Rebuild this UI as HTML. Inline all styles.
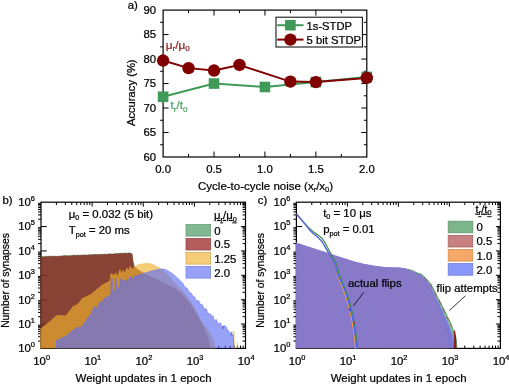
<!DOCTYPE html>
<html><head><meta charset="utf-8"><title>Figure</title>
<style>html,body{margin:0;padding:0;background:#fff}svg{display:block}text{font-family:"Liberation Sans",Arial,sans-serif;text-decoration-skip-ink:none}</style>
</head><body>
<svg width="509" height="385" viewBox="0 0 509 385">
<rect width="509" height="385" fill="#fff"/>
<rect x="163.1" y="10.1" width="203.70" height="146.90" fill="none" stroke="#000" stroke-width="1.2"/>
<text transform="translate(163.10,172.60) scale(1.1,1)" text-anchor="middle" fill="#000" stroke="#000" stroke-width="0.22" font-size="10.35" >0.0</text>
<line x1="188.56" y1="157.00" x2="188.56" y2="154.00" stroke="#000" stroke-width="1.0" />
<line x1="188.56" y1="10.10" x2="188.56" y2="13.10" stroke="#000" stroke-width="1.0" />
<line x1="214.03" y1="157.00" x2="214.03" y2="151.50" stroke="#000" stroke-width="1.0" />
<line x1="214.03" y1="10.10" x2="214.03" y2="15.60" stroke="#000" stroke-width="1.0" />
<text transform="translate(214.03,172.60) scale(1.1,1)" text-anchor="middle" fill="#000" stroke="#000" stroke-width="0.22" font-size="10.35" >0.5</text>
<line x1="239.49" y1="157.00" x2="239.49" y2="154.00" stroke="#000" stroke-width="1.0" />
<line x1="239.49" y1="10.10" x2="239.49" y2="13.10" stroke="#000" stroke-width="1.0" />
<line x1="264.95" y1="157.00" x2="264.95" y2="151.50" stroke="#000" stroke-width="1.0" />
<line x1="264.95" y1="10.10" x2="264.95" y2="15.60" stroke="#000" stroke-width="1.0" />
<text transform="translate(264.95,172.60) scale(1.1,1)" text-anchor="middle" fill="#000" stroke="#000" stroke-width="0.22" font-size="10.35" >1.0</text>
<line x1="290.41" y1="157.00" x2="290.41" y2="154.00" stroke="#000" stroke-width="1.0" />
<line x1="290.41" y1="10.10" x2="290.41" y2="13.10" stroke="#000" stroke-width="1.0" />
<line x1="315.88" y1="157.00" x2="315.88" y2="151.50" stroke="#000" stroke-width="1.0" />
<line x1="315.88" y1="10.10" x2="315.88" y2="15.60" stroke="#000" stroke-width="1.0" />
<text transform="translate(315.88,172.60) scale(1.1,1)" text-anchor="middle" fill="#000" stroke="#000" stroke-width="0.22" font-size="10.35" >1.5</text>
<line x1="341.34" y1="157.00" x2="341.34" y2="154.00" stroke="#000" stroke-width="1.0" />
<line x1="341.34" y1="10.10" x2="341.34" y2="13.10" stroke="#000" stroke-width="1.0" />
<text transform="translate(366.80,172.60) scale(1.1,1)" text-anchor="middle" fill="#000" stroke="#000" stroke-width="0.22" font-size="10.35" >2.0</text>
<text transform="translate(156.20,160.90) scale(1.1,1)" text-anchor="end" fill="#000" stroke="#000" stroke-width="0.22" font-size="10.35" >60</text>
<line x1="163.10" y1="144.76" x2="160.10" y2="144.76" stroke="#000" stroke-width="1.0" />
<line x1="366.80" y1="144.76" x2="363.80" y2="144.76" stroke="#000" stroke-width="1.0" />
<line x1="163.10" y1="132.52" x2="168.60" y2="132.52" stroke="#000" stroke-width="1.0" />
<line x1="366.80" y1="132.52" x2="361.30" y2="132.52" stroke="#000" stroke-width="1.0" />
<text transform="translate(156.20,136.42) scale(1.1,1)" text-anchor="end" fill="#000" stroke="#000" stroke-width="0.22" font-size="10.35" >65</text>
<line x1="163.10" y1="120.27" x2="160.10" y2="120.27" stroke="#000" stroke-width="1.0" />
<line x1="366.80" y1="120.27" x2="363.80" y2="120.27" stroke="#000" stroke-width="1.0" />
<line x1="163.10" y1="108.03" x2="168.60" y2="108.03" stroke="#000" stroke-width="1.0" />
<line x1="366.80" y1="108.03" x2="361.30" y2="108.03" stroke="#000" stroke-width="1.0" />
<text transform="translate(156.20,111.93) scale(1.1,1)" text-anchor="end" fill="#000" stroke="#000" stroke-width="0.22" font-size="10.35" >70</text>
<line x1="163.10" y1="95.79" x2="160.10" y2="95.79" stroke="#000" stroke-width="1.0" />
<line x1="366.80" y1="95.79" x2="363.80" y2="95.79" stroke="#000" stroke-width="1.0" />
<line x1="163.10" y1="83.55" x2="168.60" y2="83.55" stroke="#000" stroke-width="1.0" />
<line x1="366.80" y1="83.55" x2="361.30" y2="83.55" stroke="#000" stroke-width="1.0" />
<text transform="translate(156.20,87.45) scale(1.1,1)" text-anchor="end" fill="#000" stroke="#000" stroke-width="0.22" font-size="10.35" >75</text>
<line x1="163.10" y1="71.31" x2="160.10" y2="71.31" stroke="#000" stroke-width="1.0" />
<line x1="366.80" y1="71.31" x2="363.80" y2="71.31" stroke="#000" stroke-width="1.0" />
<line x1="163.10" y1="59.07" x2="168.60" y2="59.07" stroke="#000" stroke-width="1.0" />
<line x1="366.80" y1="59.07" x2="361.30" y2="59.07" stroke="#000" stroke-width="1.0" />
<text transform="translate(156.20,62.97) scale(1.1,1)" text-anchor="end" fill="#000" stroke="#000" stroke-width="0.22" font-size="10.35" >80</text>
<line x1="163.10" y1="46.83" x2="160.10" y2="46.83" stroke="#000" stroke-width="1.0" />
<line x1="366.80" y1="46.83" x2="363.80" y2="46.83" stroke="#000" stroke-width="1.0" />
<line x1="163.10" y1="34.58" x2="168.60" y2="34.58" stroke="#000" stroke-width="1.0" />
<line x1="366.80" y1="34.58" x2="361.30" y2="34.58" stroke="#000" stroke-width="1.0" />
<text transform="translate(156.20,38.48) scale(1.1,1)" text-anchor="end" fill="#000" stroke="#000" stroke-width="0.22" font-size="10.35" >85</text>
<line x1="163.10" y1="22.34" x2="160.10" y2="22.34" stroke="#000" stroke-width="1.0" />
<line x1="366.80" y1="22.34" x2="363.80" y2="22.34" stroke="#000" stroke-width="1.0" />
<text transform="translate(156.20,14.00) scale(1.1,1)" text-anchor="end" fill="#000" stroke="#000" stroke-width="0.22" font-size="10.35" >90</text>
<polyline fill="none" stroke="#3f9a58" stroke-width="2.0" points="163.10,96.77 214.03,83.55 264.95,86.98 315.88,82.08 366.80,76.94"/>
<rect x="157.80" y="91.47" width="10.6" height="10.6" fill="#3f9a58"/>
<rect x="208.72" y="78.25" width="10.6" height="10.6" fill="#3f9a58"/>
<rect x="259.65" y="81.68" width="10.6" height="10.6" fill="#3f9a58"/>
<rect x="310.57" y="76.78" width="10.6" height="10.6" fill="#3f9a58"/>
<rect x="361.50" y="71.64" width="10.6" height="10.6" fill="#3f9a58"/>
<polyline fill="none" stroke="#800000" stroke-width="2.0" points="163.10,60.54 188.56,68.13 214.03,70.57 239.49,64.94 290.41,81.59 315.88,82.08 366.80,77.92"/>
<circle cx="163.10" cy="60.54" r="6.2" fill="#800000"/>
<circle cx="188.56" cy="68.13" r="6.2" fill="#800000"/>
<circle cx="214.03" cy="70.57" r="6.2" fill="#800000"/>
<circle cx="239.49" cy="64.94" r="6.2" fill="#800000"/>
<circle cx="290.41" cy="81.59" r="6.2" fill="#800000"/>
<circle cx="315.88" cy="82.08" r="6.2" fill="#800000"/>
<circle cx="366.80" cy="77.92" r="6.2" fill="#800000"/>
<text transform="translate(127.80,8.90) scale(1.1,1)" text-anchor="start" fill="#000" stroke="#000" stroke-width="0.22" font-size="10.35" >a)</text>
<text transform="translate(135.20,92.75) scale(1.0,1.09) rotate(-90)" text-anchor="middle" fill="#000" stroke="#000" stroke-width="0.22" font-size="10.3" >Accuracy (%)</text>
<text transform="translate(265.55,189.50) scale(1.0,1)" text-anchor="middle" fill="#000" stroke="#000" stroke-width="0.22" font-size="11.5" >Cycle-to-cycle noise (x<tspan font-size="7.4" dy="2.6">r</tspan><tspan dy="-2.6">&#8203;</tspan>/x<tspan font-size="7.4" dy="2.6">0</tspan><tspan dy="-2.6">&#8203;</tspan>)</text>
<text transform="translate(165.70,48.80) scale(1.1,1)" text-anchor="start" fill="#8b1a1a" stroke="#8b1a1a" stroke-width="0.22" font-size="10.7" >μ<tspan font-size="7.3" dy="2.6">r</tspan><tspan dy="-2.6">&#8203;</tspan>/μ<tspan font-size="7.3" dy="2.6">0</tspan><tspan dy="-2.6">&#8203;</tspan></text>
<text transform="translate(170.60,109.00) scale(1.1,1)" text-anchor="start" fill="#4aa564" stroke="#4aa564" stroke-width="0.22" font-size="10.7" >t<tspan font-size="7.3" dy="2.6">r</tspan><tspan dy="-2.6">&#8203;</tspan>/t<tspan font-size="7.3" dy="2.6">0</tspan><tspan dy="-2.6">&#8203;</tspan></text>
<rect x="276.0" y="17.2" width="86.4" height="29.8" fill="#fff" stroke="#000" stroke-width="1"/>
<line x1="277.20" y1="25.20" x2="303.50" y2="25.20" stroke="#3f9a58" stroke-width="2.0" />
<rect x="285.09999999999997" y="19.9" width="10.6" height="10.6" fill="#3f9a58"/>
<line x1="277.20" y1="39.60" x2="303.50" y2="39.60" stroke="#800000" stroke-width="2.0" />
<circle cx="290.4" cy="39.6" r="6.2" fill="#800000"/>
<text transform="translate(306.60,29.50) scale(1.08,1)" text-anchor="start" fill="#000" stroke="#000" stroke-width="0.22" font-size="10.35" >1s-STDP</text>
<text transform="translate(306.60,43.70) scale(1.09,1)" text-anchor="start" fill="#000" stroke="#000" stroke-width="0.22" font-size="10.35" >5 bit STDP</text>
<rect x="41.0" y="202.2" width="204.50" height="146.20" fill="none" stroke="#000" stroke-width="1.2"/>
<text transform="translate(41.70,365.40) scale(1.1,1)" text-anchor="middle" fill="#000" stroke="#000" stroke-width="0.22" font-size="10.35" >10<tspan font-size="6.8" dy="-5.0">0</tspan></text>
<line x1="56.39" y1="348.40" x2="56.39" y2="345.60" stroke="#000" stroke-width="1.0" />
<line x1="56.39" y1="202.20" x2="56.39" y2="205.00" stroke="#000" stroke-width="1.0" />
<line x1="65.39" y1="348.40" x2="65.39" y2="345.60" stroke="#000" stroke-width="1.0" />
<line x1="65.39" y1="202.20" x2="65.39" y2="205.00" stroke="#000" stroke-width="1.0" />
<line x1="71.78" y1="348.40" x2="71.78" y2="345.60" stroke="#000" stroke-width="1.0" />
<line x1="71.78" y1="202.20" x2="71.78" y2="205.00" stroke="#000" stroke-width="1.0" />
<line x1="76.73" y1="348.40" x2="76.73" y2="345.60" stroke="#000" stroke-width="1.0" />
<line x1="76.73" y1="202.20" x2="76.73" y2="205.00" stroke="#000" stroke-width="1.0" />
<line x1="80.78" y1="348.40" x2="80.78" y2="345.60" stroke="#000" stroke-width="1.0" />
<line x1="80.78" y1="202.20" x2="80.78" y2="205.00" stroke="#000" stroke-width="1.0" />
<line x1="84.21" y1="348.40" x2="84.21" y2="345.60" stroke="#000" stroke-width="1.0" />
<line x1="84.21" y1="202.20" x2="84.21" y2="205.00" stroke="#000" stroke-width="1.0" />
<line x1="87.17" y1="348.40" x2="87.17" y2="345.60" stroke="#000" stroke-width="1.0" />
<line x1="87.17" y1="202.20" x2="87.17" y2="205.00" stroke="#000" stroke-width="1.0" />
<line x1="89.79" y1="348.40" x2="89.79" y2="345.60" stroke="#000" stroke-width="1.0" />
<line x1="89.79" y1="202.20" x2="89.79" y2="205.00" stroke="#000" stroke-width="1.0" />
<line x1="92.12" y1="348.40" x2="92.12" y2="343.90" stroke="#000" stroke-width="1.0" />
<line x1="92.12" y1="202.20" x2="92.12" y2="206.70" stroke="#000" stroke-width="1.0" />
<text transform="translate(92.83,365.40) scale(1.1,1)" text-anchor="middle" fill="#000" stroke="#000" stroke-width="0.22" font-size="10.35" >10<tspan font-size="6.8" dy="-5.0">1</tspan></text>
<line x1="107.52" y1="348.40" x2="107.52" y2="345.60" stroke="#000" stroke-width="1.0" />
<line x1="107.52" y1="202.20" x2="107.52" y2="205.00" stroke="#000" stroke-width="1.0" />
<line x1="116.52" y1="348.40" x2="116.52" y2="345.60" stroke="#000" stroke-width="1.0" />
<line x1="116.52" y1="202.20" x2="116.52" y2="205.00" stroke="#000" stroke-width="1.0" />
<line x1="122.91" y1="348.40" x2="122.91" y2="345.60" stroke="#000" stroke-width="1.0" />
<line x1="122.91" y1="202.20" x2="122.91" y2="205.00" stroke="#000" stroke-width="1.0" />
<line x1="127.86" y1="348.40" x2="127.86" y2="345.60" stroke="#000" stroke-width="1.0" />
<line x1="127.86" y1="202.20" x2="127.86" y2="205.00" stroke="#000" stroke-width="1.0" />
<line x1="131.91" y1="348.40" x2="131.91" y2="345.60" stroke="#000" stroke-width="1.0" />
<line x1="131.91" y1="202.20" x2="131.91" y2="205.00" stroke="#000" stroke-width="1.0" />
<line x1="135.33" y1="348.40" x2="135.33" y2="345.60" stroke="#000" stroke-width="1.0" />
<line x1="135.33" y1="202.20" x2="135.33" y2="205.00" stroke="#000" stroke-width="1.0" />
<line x1="138.30" y1="348.40" x2="138.30" y2="345.60" stroke="#000" stroke-width="1.0" />
<line x1="138.30" y1="202.20" x2="138.30" y2="205.00" stroke="#000" stroke-width="1.0" />
<line x1="140.91" y1="348.40" x2="140.91" y2="345.60" stroke="#000" stroke-width="1.0" />
<line x1="140.91" y1="202.20" x2="140.91" y2="205.00" stroke="#000" stroke-width="1.0" />
<line x1="143.25" y1="348.40" x2="143.25" y2="343.90" stroke="#000" stroke-width="1.0" />
<line x1="143.25" y1="202.20" x2="143.25" y2="206.70" stroke="#000" stroke-width="1.0" />
<text transform="translate(143.95,365.40) scale(1.1,1)" text-anchor="middle" fill="#000" stroke="#000" stroke-width="0.22" font-size="10.35" >10<tspan font-size="6.8" dy="-5.0">2</tspan></text>
<line x1="158.64" y1="348.40" x2="158.64" y2="345.60" stroke="#000" stroke-width="1.0" />
<line x1="158.64" y1="202.20" x2="158.64" y2="205.00" stroke="#000" stroke-width="1.0" />
<line x1="167.64" y1="348.40" x2="167.64" y2="345.60" stroke="#000" stroke-width="1.0" />
<line x1="167.64" y1="202.20" x2="167.64" y2="205.00" stroke="#000" stroke-width="1.0" />
<line x1="174.03" y1="348.40" x2="174.03" y2="345.60" stroke="#000" stroke-width="1.0" />
<line x1="174.03" y1="202.20" x2="174.03" y2="205.00" stroke="#000" stroke-width="1.0" />
<line x1="178.98" y1="348.40" x2="178.98" y2="345.60" stroke="#000" stroke-width="1.0" />
<line x1="178.98" y1="202.20" x2="178.98" y2="205.00" stroke="#000" stroke-width="1.0" />
<line x1="183.03" y1="348.40" x2="183.03" y2="345.60" stroke="#000" stroke-width="1.0" />
<line x1="183.03" y1="202.20" x2="183.03" y2="205.00" stroke="#000" stroke-width="1.0" />
<line x1="186.46" y1="348.40" x2="186.46" y2="345.60" stroke="#000" stroke-width="1.0" />
<line x1="186.46" y1="202.20" x2="186.46" y2="205.00" stroke="#000" stroke-width="1.0" />
<line x1="189.42" y1="348.40" x2="189.42" y2="345.60" stroke="#000" stroke-width="1.0" />
<line x1="189.42" y1="202.20" x2="189.42" y2="205.00" stroke="#000" stroke-width="1.0" />
<line x1="192.04" y1="348.40" x2="192.04" y2="345.60" stroke="#000" stroke-width="1.0" />
<line x1="192.04" y1="202.20" x2="192.04" y2="205.00" stroke="#000" stroke-width="1.0" />
<line x1="194.38" y1="348.40" x2="194.38" y2="343.90" stroke="#000" stroke-width="1.0" />
<line x1="194.38" y1="202.20" x2="194.38" y2="206.70" stroke="#000" stroke-width="1.0" />
<text transform="translate(195.07,365.40) scale(1.1,1)" text-anchor="middle" fill="#000" stroke="#000" stroke-width="0.22" font-size="10.35" >10<tspan font-size="6.8" dy="-5.0">3</tspan></text>
<line x1="209.77" y1="348.40" x2="209.77" y2="345.60" stroke="#000" stroke-width="1.0" />
<line x1="209.77" y1="202.20" x2="209.77" y2="205.00" stroke="#000" stroke-width="1.0" />
<line x1="218.77" y1="348.40" x2="218.77" y2="345.60" stroke="#000" stroke-width="1.0" />
<line x1="218.77" y1="202.20" x2="218.77" y2="205.00" stroke="#000" stroke-width="1.0" />
<line x1="225.16" y1="348.40" x2="225.16" y2="345.60" stroke="#000" stroke-width="1.0" />
<line x1="225.16" y1="202.20" x2="225.16" y2="205.00" stroke="#000" stroke-width="1.0" />
<line x1="230.11" y1="348.40" x2="230.11" y2="345.60" stroke="#000" stroke-width="1.0" />
<line x1="230.11" y1="202.20" x2="230.11" y2="205.00" stroke="#000" stroke-width="1.0" />
<line x1="234.16" y1="348.40" x2="234.16" y2="345.60" stroke="#000" stroke-width="1.0" />
<line x1="234.16" y1="202.20" x2="234.16" y2="205.00" stroke="#000" stroke-width="1.0" />
<line x1="237.58" y1="348.40" x2="237.58" y2="345.60" stroke="#000" stroke-width="1.0" />
<line x1="237.58" y1="202.20" x2="237.58" y2="205.00" stroke="#000" stroke-width="1.0" />
<line x1="240.55" y1="348.40" x2="240.55" y2="345.60" stroke="#000" stroke-width="1.0" />
<line x1="240.55" y1="202.20" x2="240.55" y2="205.00" stroke="#000" stroke-width="1.0" />
<line x1="243.16" y1="348.40" x2="243.16" y2="345.60" stroke="#000" stroke-width="1.0" />
<line x1="243.16" y1="202.20" x2="243.16" y2="205.00" stroke="#000" stroke-width="1.0" />
<text transform="translate(246.20,365.40) scale(1.1,1)" text-anchor="middle" fill="#000" stroke="#000" stroke-width="0.22" font-size="10.35" >10<tspan font-size="6.8" dy="-5.0">4</tspan></text>
<text transform="translate(35.00,352.30) scale(1.1,1)" text-anchor="end" fill="#000" stroke="#000" stroke-width="0.22" font-size="10.35" >10<tspan font-size="6.8" dy="-5.0">0</tspan></text>
<line x1="41.00" y1="341.06" x2="38.00" y2="341.06" stroke="#000" stroke-width="1.0" />
<line x1="245.50" y1="341.06" x2="242.50" y2="341.06" stroke="#000" stroke-width="1.0" />
<line x1="41.00" y1="336.77" x2="38.00" y2="336.77" stroke="#000" stroke-width="1.0" />
<line x1="245.50" y1="336.77" x2="242.50" y2="336.77" stroke="#000" stroke-width="1.0" />
<line x1="41.00" y1="333.73" x2="38.00" y2="333.73" stroke="#000" stroke-width="1.0" />
<line x1="245.50" y1="333.73" x2="242.50" y2="333.73" stroke="#000" stroke-width="1.0" />
<line x1="41.00" y1="331.37" x2="38.00" y2="331.37" stroke="#000" stroke-width="1.0" />
<line x1="245.50" y1="331.37" x2="242.50" y2="331.37" stroke="#000" stroke-width="1.0" />
<line x1="41.00" y1="329.44" x2="38.00" y2="329.44" stroke="#000" stroke-width="1.0" />
<line x1="245.50" y1="329.44" x2="242.50" y2="329.44" stroke="#000" stroke-width="1.0" />
<line x1="41.00" y1="327.81" x2="38.00" y2="327.81" stroke="#000" stroke-width="1.0" />
<line x1="245.50" y1="327.81" x2="242.50" y2="327.81" stroke="#000" stroke-width="1.0" />
<line x1="41.00" y1="326.39" x2="38.00" y2="326.39" stroke="#000" stroke-width="1.0" />
<line x1="245.50" y1="326.39" x2="242.50" y2="326.39" stroke="#000" stroke-width="1.0" />
<line x1="41.00" y1="325.15" x2="38.00" y2="325.15" stroke="#000" stroke-width="1.0" />
<line x1="245.50" y1="325.15" x2="242.50" y2="325.15" stroke="#000" stroke-width="1.0" />
<line x1="41.00" y1="324.03" x2="46.80" y2="324.03" stroke="#000" stroke-width="1.0" />
<line x1="245.50" y1="324.03" x2="241.00" y2="324.03" stroke="#000" stroke-width="1.0" />
<text transform="translate(35.00,327.93) scale(1.1,1)" text-anchor="end" fill="#000" stroke="#000" stroke-width="0.22" font-size="10.35" >10<tspan font-size="6.8" dy="-5.0">1</tspan></text>
<line x1="41.00" y1="316.70" x2="38.00" y2="316.70" stroke="#000" stroke-width="1.0" />
<line x1="245.50" y1="316.70" x2="242.50" y2="316.70" stroke="#000" stroke-width="1.0" />
<line x1="41.00" y1="312.41" x2="38.00" y2="312.41" stroke="#000" stroke-width="1.0" />
<line x1="245.50" y1="312.41" x2="242.50" y2="312.41" stroke="#000" stroke-width="1.0" />
<line x1="41.00" y1="309.36" x2="38.00" y2="309.36" stroke="#000" stroke-width="1.0" />
<line x1="245.50" y1="309.36" x2="242.50" y2="309.36" stroke="#000" stroke-width="1.0" />
<line x1="41.00" y1="307.00" x2="38.00" y2="307.00" stroke="#000" stroke-width="1.0" />
<line x1="245.50" y1="307.00" x2="242.50" y2="307.00" stroke="#000" stroke-width="1.0" />
<line x1="41.00" y1="305.07" x2="38.00" y2="305.07" stroke="#000" stroke-width="1.0" />
<line x1="245.50" y1="305.07" x2="242.50" y2="305.07" stroke="#000" stroke-width="1.0" />
<line x1="41.00" y1="303.44" x2="38.00" y2="303.44" stroke="#000" stroke-width="1.0" />
<line x1="245.50" y1="303.44" x2="242.50" y2="303.44" stroke="#000" stroke-width="1.0" />
<line x1="41.00" y1="302.03" x2="38.00" y2="302.03" stroke="#000" stroke-width="1.0" />
<line x1="245.50" y1="302.03" x2="242.50" y2="302.03" stroke="#000" stroke-width="1.0" />
<line x1="41.00" y1="300.78" x2="38.00" y2="300.78" stroke="#000" stroke-width="1.0" />
<line x1="245.50" y1="300.78" x2="242.50" y2="300.78" stroke="#000" stroke-width="1.0" />
<line x1="41.00" y1="299.67" x2="46.80" y2="299.67" stroke="#000" stroke-width="1.0" />
<line x1="245.50" y1="299.67" x2="241.00" y2="299.67" stroke="#000" stroke-width="1.0" />
<text transform="translate(35.00,303.57) scale(1.1,1)" text-anchor="end" fill="#000" stroke="#000" stroke-width="0.22" font-size="10.35" >10<tspan font-size="6.8" dy="-5.0">2</tspan></text>
<line x1="41.00" y1="292.33" x2="38.00" y2="292.33" stroke="#000" stroke-width="1.0" />
<line x1="245.50" y1="292.33" x2="242.50" y2="292.33" stroke="#000" stroke-width="1.0" />
<line x1="41.00" y1="288.04" x2="38.00" y2="288.04" stroke="#000" stroke-width="1.0" />
<line x1="245.50" y1="288.04" x2="242.50" y2="288.04" stroke="#000" stroke-width="1.0" />
<line x1="41.00" y1="285.00" x2="38.00" y2="285.00" stroke="#000" stroke-width="1.0" />
<line x1="245.50" y1="285.00" x2="242.50" y2="285.00" stroke="#000" stroke-width="1.0" />
<line x1="41.00" y1="282.64" x2="38.00" y2="282.64" stroke="#000" stroke-width="1.0" />
<line x1="245.50" y1="282.64" x2="242.50" y2="282.64" stroke="#000" stroke-width="1.0" />
<line x1="41.00" y1="280.71" x2="38.00" y2="280.71" stroke="#000" stroke-width="1.0" />
<line x1="245.50" y1="280.71" x2="242.50" y2="280.71" stroke="#000" stroke-width="1.0" />
<line x1="41.00" y1="279.07" x2="38.00" y2="279.07" stroke="#000" stroke-width="1.0" />
<line x1="245.50" y1="279.07" x2="242.50" y2="279.07" stroke="#000" stroke-width="1.0" />
<line x1="41.00" y1="277.66" x2="38.00" y2="277.66" stroke="#000" stroke-width="1.0" />
<line x1="245.50" y1="277.66" x2="242.50" y2="277.66" stroke="#000" stroke-width="1.0" />
<line x1="41.00" y1="276.41" x2="38.00" y2="276.41" stroke="#000" stroke-width="1.0" />
<line x1="245.50" y1="276.41" x2="242.50" y2="276.41" stroke="#000" stroke-width="1.0" />
<line x1="41.00" y1="275.30" x2="46.80" y2="275.30" stroke="#000" stroke-width="1.0" />
<line x1="245.50" y1="275.30" x2="241.00" y2="275.30" stroke="#000" stroke-width="1.0" />
<text transform="translate(35.00,279.20) scale(1.1,1)" text-anchor="end" fill="#000" stroke="#000" stroke-width="0.22" font-size="10.35" >10<tspan font-size="6.8" dy="-5.0">3</tspan></text>
<line x1="41.00" y1="267.96" x2="38.00" y2="267.96" stroke="#000" stroke-width="1.0" />
<line x1="245.50" y1="267.96" x2="242.50" y2="267.96" stroke="#000" stroke-width="1.0" />
<line x1="41.00" y1="263.67" x2="38.00" y2="263.67" stroke="#000" stroke-width="1.0" />
<line x1="245.50" y1="263.67" x2="242.50" y2="263.67" stroke="#000" stroke-width="1.0" />
<line x1="41.00" y1="260.63" x2="38.00" y2="260.63" stroke="#000" stroke-width="1.0" />
<line x1="245.50" y1="260.63" x2="242.50" y2="260.63" stroke="#000" stroke-width="1.0" />
<line x1="41.00" y1="258.27" x2="38.00" y2="258.27" stroke="#000" stroke-width="1.0" />
<line x1="245.50" y1="258.27" x2="242.50" y2="258.27" stroke="#000" stroke-width="1.0" />
<line x1="41.00" y1="256.34" x2="38.00" y2="256.34" stroke="#000" stroke-width="1.0" />
<line x1="245.50" y1="256.34" x2="242.50" y2="256.34" stroke="#000" stroke-width="1.0" />
<line x1="41.00" y1="254.71" x2="38.00" y2="254.71" stroke="#000" stroke-width="1.0" />
<line x1="245.50" y1="254.71" x2="242.50" y2="254.71" stroke="#000" stroke-width="1.0" />
<line x1="41.00" y1="253.29" x2="38.00" y2="253.29" stroke="#000" stroke-width="1.0" />
<line x1="245.50" y1="253.29" x2="242.50" y2="253.29" stroke="#000" stroke-width="1.0" />
<line x1="41.00" y1="252.05" x2="38.00" y2="252.05" stroke="#000" stroke-width="1.0" />
<line x1="245.50" y1="252.05" x2="242.50" y2="252.05" stroke="#000" stroke-width="1.0" />
<line x1="41.00" y1="250.93" x2="46.80" y2="250.93" stroke="#000" stroke-width="1.0" />
<line x1="245.50" y1="250.93" x2="241.00" y2="250.93" stroke="#000" stroke-width="1.0" />
<text transform="translate(35.00,254.83) scale(1.1,1)" text-anchor="end" fill="#000" stroke="#000" stroke-width="0.22" font-size="10.35" >10<tspan font-size="6.8" dy="-5.0">4</tspan></text>
<line x1="41.00" y1="243.60" x2="38.00" y2="243.60" stroke="#000" stroke-width="1.0" />
<line x1="245.50" y1="243.60" x2="242.50" y2="243.60" stroke="#000" stroke-width="1.0" />
<line x1="41.00" y1="239.31" x2="38.00" y2="239.31" stroke="#000" stroke-width="1.0" />
<line x1="245.50" y1="239.31" x2="242.50" y2="239.31" stroke="#000" stroke-width="1.0" />
<line x1="41.00" y1="236.26" x2="38.00" y2="236.26" stroke="#000" stroke-width="1.0" />
<line x1="245.50" y1="236.26" x2="242.50" y2="236.26" stroke="#000" stroke-width="1.0" />
<line x1="41.00" y1="233.90" x2="38.00" y2="233.90" stroke="#000" stroke-width="1.0" />
<line x1="245.50" y1="233.90" x2="242.50" y2="233.90" stroke="#000" stroke-width="1.0" />
<line x1="41.00" y1="231.97" x2="38.00" y2="231.97" stroke="#000" stroke-width="1.0" />
<line x1="245.50" y1="231.97" x2="242.50" y2="231.97" stroke="#000" stroke-width="1.0" />
<line x1="41.00" y1="230.34" x2="38.00" y2="230.34" stroke="#000" stroke-width="1.0" />
<line x1="245.50" y1="230.34" x2="242.50" y2="230.34" stroke="#000" stroke-width="1.0" />
<line x1="41.00" y1="228.93" x2="38.00" y2="228.93" stroke="#000" stroke-width="1.0" />
<line x1="245.50" y1="228.93" x2="242.50" y2="228.93" stroke="#000" stroke-width="1.0" />
<line x1="41.00" y1="227.68" x2="38.00" y2="227.68" stroke="#000" stroke-width="1.0" />
<line x1="245.50" y1="227.68" x2="242.50" y2="227.68" stroke="#000" stroke-width="1.0" />
<line x1="41.00" y1="226.57" x2="46.80" y2="226.57" stroke="#000" stroke-width="1.0" />
<line x1="245.50" y1="226.57" x2="241.00" y2="226.57" stroke="#000" stroke-width="1.0" />
<text transform="translate(35.00,230.47) scale(1.1,1)" text-anchor="end" fill="#000" stroke="#000" stroke-width="0.22" font-size="10.35" >10<tspan font-size="6.8" dy="-5.0">5</tspan></text>
<line x1="41.00" y1="219.23" x2="38.00" y2="219.23" stroke="#000" stroke-width="1.0" />
<line x1="245.50" y1="219.23" x2="242.50" y2="219.23" stroke="#000" stroke-width="1.0" />
<line x1="41.00" y1="214.94" x2="38.00" y2="214.94" stroke="#000" stroke-width="1.0" />
<line x1="245.50" y1="214.94" x2="242.50" y2="214.94" stroke="#000" stroke-width="1.0" />
<line x1="41.00" y1="211.90" x2="38.00" y2="211.90" stroke="#000" stroke-width="1.0" />
<line x1="245.50" y1="211.90" x2="242.50" y2="211.90" stroke="#000" stroke-width="1.0" />
<line x1="41.00" y1="209.54" x2="38.00" y2="209.54" stroke="#000" stroke-width="1.0" />
<line x1="245.50" y1="209.54" x2="242.50" y2="209.54" stroke="#000" stroke-width="1.0" />
<line x1="41.00" y1="207.61" x2="38.00" y2="207.61" stroke="#000" stroke-width="1.0" />
<line x1="245.50" y1="207.61" x2="242.50" y2="207.61" stroke="#000" stroke-width="1.0" />
<line x1="41.00" y1="205.97" x2="38.00" y2="205.97" stroke="#000" stroke-width="1.0" />
<line x1="245.50" y1="205.97" x2="242.50" y2="205.97" stroke="#000" stroke-width="1.0" />
<line x1="41.00" y1="204.56" x2="38.00" y2="204.56" stroke="#000" stroke-width="1.0" />
<line x1="245.50" y1="204.56" x2="242.50" y2="204.56" stroke="#000" stroke-width="1.0" />
<line x1="41.00" y1="203.31" x2="38.00" y2="203.31" stroke="#000" stroke-width="1.0" />
<line x1="245.50" y1="203.31" x2="242.50" y2="203.31" stroke="#000" stroke-width="1.0" />
<text transform="translate(35.00,206.10) scale(1.1,1)" text-anchor="end" fill="#000" stroke="#000" stroke-width="0.22" font-size="10.35" >10<tspan font-size="6.8" dy="-5.0">6</tspan></text>
<clipPath id="clipb"><rect x="40.4" y="202.2" width="205.10" height="146.20"/></clipPath>
<g clip-path="url(#clipb)">
<path d="M40.00,348.40 L40.00,256.39 L41.00,256.25 L42.00,256.51 L43.00,256.12 L44.00,256.36 L45.00,256.22 L46.00,255.99 L47.00,256.22 L48.00,255.90 L49.00,256.10 L50.00,255.84 L51.00,255.81 L52.00,255.97 L53.00,256.18 L54.00,255.71 L55.00,255.73 L56.00,255.94 L57.00,256.09 L58.00,255.83 L59.00,255.68 L60.00,255.99 L61.00,255.38 L62.00,255.83 L63.00,255.44 L64.00,255.31 L65.00,255.25 L66.00,255.33 L67.00,255.59 L68.00,255.16 L69.00,255.36 L70.00,255.35 L71.00,255.15 L72.00,255.21 L73.00,254.87 L74.00,254.83 L75.00,254.87 L76.00,255.11 L77.00,254.92 L78.00,254.81 L79.00,254.93 L80.00,254.81 L81.00,254.67 L82.00,254.92 L83.00,254.82 L84.00,254.51 L85.00,254.66 L86.00,254.59 L87.00,254.76 L88.00,254.62 L89.00,254.32 L90.00,254.69 L91.00,254.13 L92.00,254.27 L93.00,254.43 L94.00,254.03 L95.00,254.19 L96.00,253.88 L97.00,254.22 L98.00,254.24 L99.00,254.08 L100.00,254.23 L101.00,253.85 L102.00,254.04 L103.00,253.94 L104.00,253.89 L105.00,253.77 L106.00,253.96 L107.00,253.99 L108.00,253.66 L109.00,253.74 L110.00,253.34 L111.00,253.68 L112.00,253.61 L113.00,253.78 L114.00,253.63 L115.00,253.27 L116.00,253.29 L117.00,253.42 L118.00,252.99 L119.00,253.22 L120.00,253.00 L121.04,252.92 L122.07,252.84 L123.11,253.22 L124.15,252.80 L125.18,252.82 L126.22,252.86 L127.25,253.10 L128.29,252.58 L129.33,252.76 L130.36,252.78 L131.40,252.93 L132.40,254.19 L133.30,261.22 L134.50,266.67 L135.62,267.55 L136.75,268.32 L137.88,269.43 L139.00,270.27 L140.10,270.51 L141.20,271.25 L142.30,272.00 L143.40,272.72 L144.50,273.59 L145.58,274.15 L146.67,274.46 L147.75,274.80 L148.83,275.55 L149.92,276.02 L151.00,276.64 L152.05,277.36 L153.10,277.68 L154.15,278.06 L155.20,278.60 L156.25,279.12 L157.30,279.23 L158.31,280.25 L159.32,280.69 L160.33,281.26 L161.34,281.72 L162.36,281.99 L163.37,282.51 L164.38,282.84 L165.39,283.67 L166.40,283.84 L167.41,284.34 L168.42,284.93 L169.43,285.40 L170.44,286.00 L171.46,286.33 L172.47,286.80 L173.48,287.39 L174.49,287.86 L175.50,288.52 L176.62,289.17 L177.75,290.52 L178.88,291.22 L180.00,291.79 L181.12,292.98 L182.25,294.16 L183.38,295.29 L184.50,296.27 L185.62,298.08 L186.75,299.55 L187.88,300.60 L189.00,301.99 L190.10,303.40 L191.20,305.06 L192.30,306.86 L193.40,308.46 L194.55,310.77 L195.70,312.35 L196.85,314.24 L198.00,316.77 L199.30,318.98 L200.60,321.22 L201.90,323.93 L203.20,326.17 L204.50,329.02 L205.75,331.79 L207.00,334.22 L208.80,340.12 L210.30,349.00 L210.30,348.40 Z" fill="#3f9256" fill-opacity="0.65"/>
<polyline fill="none" stroke="#3f9256" stroke-width="0.6" stroke-opacity="0.25" stroke-linejoin="round" points="40.00,256.39 41.00,256.25 42.00,256.51 43.00,256.12 44.00,256.36 45.00,256.22 46.00,255.99 47.00,256.22 48.00,255.90 49.00,256.10 50.00,255.84 51.00,255.81 52.00,255.97 53.00,256.18 54.00,255.71 55.00,255.73 56.00,255.94 57.00,256.09 58.00,255.83 59.00,255.68 60.00,255.99 61.00,255.38 62.00,255.83 63.00,255.44 64.00,255.31 65.00,255.25 66.00,255.33 67.00,255.59 68.00,255.16 69.00,255.36 70.00,255.35 71.00,255.15 72.00,255.21 73.00,254.87 74.00,254.83 75.00,254.87 76.00,255.11 77.00,254.92 78.00,254.81 79.00,254.93 80.00,254.81 81.00,254.67 82.00,254.92 83.00,254.82 84.00,254.51 85.00,254.66 86.00,254.59 87.00,254.76 88.00,254.62 89.00,254.32 90.00,254.69 91.00,254.13 92.00,254.27 93.00,254.43 94.00,254.03 95.00,254.19 96.00,253.88 97.00,254.22 98.00,254.24 99.00,254.08 100.00,254.23 101.00,253.85 102.00,254.04 103.00,253.94 104.00,253.89 105.00,253.77 106.00,253.96 107.00,253.99 108.00,253.66 109.00,253.74 110.00,253.34 111.00,253.68 112.00,253.61 113.00,253.78 114.00,253.63 115.00,253.27 116.00,253.29 117.00,253.42 118.00,252.99 119.00,253.22 120.00,253.00 121.04,252.92 122.07,252.84 123.11,253.22 124.15,252.80 125.18,252.82 126.22,252.86 127.25,253.10 128.29,252.58 129.33,252.76 130.36,252.78 131.40,252.93 132.40,254.19 133.30,261.22 134.50,266.67 135.62,267.55 136.75,268.32 137.88,269.43 139.00,270.27 140.10,270.51 141.20,271.25 142.30,272.00 143.40,272.72 144.50,273.59 145.58,274.15 146.67,274.46 147.75,274.80 148.83,275.55 149.92,276.02 151.00,276.64 152.05,277.36 153.10,277.68 154.15,278.06 155.20,278.60 156.25,279.12 157.30,279.23 158.31,280.25 159.32,280.69 160.33,281.26 161.34,281.72 162.36,281.99 163.37,282.51 164.38,282.84 165.39,283.67 166.40,283.84 167.41,284.34 168.42,284.93 169.43,285.40 170.44,286.00 171.46,286.33 172.47,286.80 173.48,287.39 174.49,287.86 175.50,288.52 176.62,289.17 177.75,290.52 178.88,291.22 180.00,291.79 181.12,292.98 182.25,294.16 183.38,295.29 184.50,296.27 185.62,298.08 186.75,299.55 187.88,300.60 189.00,301.99 190.10,303.40 191.20,305.06 192.30,306.86 193.40,308.46 194.55,310.77 195.70,312.35 196.85,314.24 198.00,316.77 199.30,318.98 200.60,321.22 201.90,323.93 203.20,326.17 204.50,329.02 205.75,331.79 207.00,334.22 208.80,340.12 210.30,349.00"/>
<path d="M230.80,336.00 L230.80,336.00 L231.00,331.40 L232.40,332.20 L232.60,336.00 L232.60,336.00 Z" fill="#3f9256" fill-opacity="0.7"/>
<path d="M40.00,348.40 L40.00,256.69 L41.00,256.55 L42.00,256.81 L43.00,256.42 L44.00,256.66 L45.00,256.52 L46.00,256.29 L47.00,256.52 L48.00,256.20 L49.00,256.40 L50.00,256.14 L51.00,256.11 L52.00,256.27 L53.00,256.48 L54.00,256.01 L55.00,256.03 L56.00,256.24 L57.00,256.39 L58.00,256.13 L59.00,255.98 L60.00,256.29 L61.00,255.68 L62.00,256.13 L63.00,255.74 L64.00,255.61 L65.00,255.55 L66.00,255.63 L67.00,255.89 L68.00,255.46 L69.00,255.66 L70.00,255.65 L71.00,255.45 L72.00,255.51 L73.00,255.17 L74.00,255.13 L75.00,255.17 L76.00,255.41 L77.00,255.22 L78.00,255.11 L79.00,255.23 L80.00,255.11 L81.00,254.97 L82.00,255.22 L83.00,255.12 L84.00,254.81 L85.00,254.96 L86.00,254.89 L87.00,255.06 L88.00,254.92 L89.00,254.62 L90.00,254.99 L91.00,254.43 L92.00,254.57 L93.00,254.73 L94.00,254.33 L95.00,254.49 L96.00,254.18 L97.00,254.52 L98.00,254.54 L99.00,254.38 L100.00,254.53 L101.00,254.15 L102.00,254.34 L103.00,254.24 L104.00,254.19 L105.00,254.07 L106.00,254.26 L107.00,254.29 L108.00,253.96 L109.00,254.04 L110.00,253.64 L111.00,253.98 L112.00,253.91 L113.00,254.08 L114.00,253.93 L115.00,253.57 L116.00,253.59 L117.00,253.72 L118.00,253.29 L119.00,253.52 L120.00,253.30 L121.04,253.22 L122.07,253.14 L123.11,253.52 L124.15,253.10 L125.18,253.12 L126.22,253.16 L127.25,253.40 L128.29,252.88 L129.33,253.06 L130.36,253.08 L131.40,253.23 L132.40,254.49 L133.30,261.52 L134.50,266.97 L135.62,267.85 L136.75,268.62 L137.88,269.73 L139.00,270.57 L140.10,270.81 L141.20,271.55 L142.30,272.30 L143.40,273.02 L144.50,273.89 L145.58,274.45 L146.67,274.76 L147.75,275.10 L148.83,275.85 L149.92,276.32 L151.00,276.94 L152.05,277.66 L153.10,277.98 L154.15,278.36 L155.20,278.90 L156.25,279.42 L157.30,279.53 L158.31,280.55 L159.32,280.99 L160.33,281.56 L161.34,282.02 L162.36,282.29 L163.37,282.81 L164.38,283.14 L165.39,283.97 L166.40,284.14 L167.41,284.64 L168.42,285.23 L169.43,285.70 L170.44,286.30 L171.46,286.63 L172.47,287.10 L173.48,287.69 L174.49,288.16 L175.50,288.82 L176.62,289.47 L177.75,290.82 L178.88,291.52 L180.00,292.09 L181.12,293.28 L182.25,294.46 L183.38,295.59 L184.50,296.57 L185.62,298.38 L186.75,299.85 L187.88,300.90 L189.00,302.29 L190.10,303.70 L191.20,305.36 L192.30,307.16 L193.40,308.76 L194.55,311.07 L195.70,312.65 L196.85,314.54 L198.00,317.07 L199.30,319.28 L200.60,321.52 L201.90,324.23 L203.20,326.47 L204.50,329.32 L205.75,332.09 L207.00,334.52 L208.80,340.42 L210.30,349.30 L210.30,348.40 Z" fill="#8d0404" fill-opacity="0.65"/>
<path d="M222.40,329.00 L222.40,329.00 L222.60,325.40 L223.60,326.50 L223.80,329.00 L223.80,329.00 Z" fill="#8d0404" fill-opacity="0.8"/>
<path d="M40.00,348.40 L40.00,329.36 L41.90,328.12 L42.91,327.11 L43.93,326.59 L44.94,325.56 L45.96,324.82 L46.97,323.67 L47.99,322.72 L49.00,322.19 L50.06,321.39 L51.11,320.41 L52.17,319.48 L53.23,318.59 L54.29,317.64 L55.34,316.44 L56.40,315.71 L57.43,315.61 L58.47,315.42 L59.50,315.42 L60.53,315.57 L61.57,315.56 L62.60,315.82 L63.63,315.97 L64.67,315.67 L65.70,315.96 L66.97,314.43 L68.23,312.84 L69.50,310.92 L70.50,309.68 L71.50,308.54 L72.50,307.37 L73.50,306.22 L74.67,305.87 L75.85,305.44 L77.03,304.80 L78.20,303.99 L79.50,302.29 L80.80,300.58 L82.10,298.35 L83.27,298.15 L84.45,297.75 L85.62,297.12 L86.80,296.55 L88.07,295.79 L89.33,295.01 L90.60,294.77 L91.90,293.40 L93.20,292.58 L94.50,291.58 L95.70,290.24 L96.90,289.24 L98.10,288.57 L99.30,287.43 L100.30,286.38 L101.30,285.63 L102.30,284.92 L103.30,284.64 L104.33,284.02 L105.37,283.05 L106.40,282.90 L107.67,282.25 L108.93,281.33 L110.20,280.50 L110.70,274.30 L112.00,273.50 L113.60,276.40 L114.60,274.00 L115.70,272.90 L116.80,275.00 L117.90,276.40 L119.00,272.00 L120.00,269.30 L120.70,272.00 L121.40,275.00 L122.20,272.00 L122.90,270.00 L124.00,271.80 L125.00,272.90 L126.00,270.00 L127.10,267.90 L127.90,270.00 L128.60,271.40 L129.30,268.50 L130.00,266.40 L131.00,268.00 L132.10,269.30 L133.20,268.30 L134.50,266.80 L135.65,266.25 L136.80,265.43 L137.95,264.78 L139.10,264.78 L140.40,264.29 L141.70,263.92 L143.00,263.86 L144.13,263.43 L145.27,263.56 L146.40,263.40 L147.48,263.21 L148.56,263.41 L149.64,263.62 L150.72,263.76 L151.80,264.15 L152.90,264.50 L154.00,265.13 L155.10,265.50 L156.20,266.51 L157.30,266.71 L158.43,267.37 L159.55,268.05 L160.68,268.84 L161.80,269.15 L162.95,270.45 L164.10,271.20 L165.25,272.22 L166.40,273.21 L167.48,274.17 L168.56,275.68 L169.64,276.79 L170.72,277.94 L171.80,279.68 L172.90,280.58 L174.00,282.04 L175.10,283.48 L176.20,284.65 L177.30,285.80 L178.38,287.01 L179.46,288.13 L180.54,289.37 L181.62,290.06 L182.70,291.44 L183.85,292.70 L185.00,294.17 L186.07,295.76 L187.13,296.90 L188.20,298.24 L189.24,299.94 L190.28,301.61 L191.32,302.91 L192.36,304.59 L193.40,306.10 L194.60,308.24 L195.80,310.48 L197.00,312.47 L198.07,314.62 L199.13,316.69 L200.20,319.06 L201.30,320.65 L202.40,322.49 L203.50,324.27 L204.67,325.49 L205.83,327.30 L207.00,329.17 L208.25,331.15 L209.50,332.78 L210.75,334.97 L212.00,337.37 L213.80,341.74 L215.40,349.00 L215.40,348.40 Z" fill="#f0b02f" fill-opacity="0.65"/>
<polyline fill="none" stroke="#f0b02f" stroke-width="0.7" stroke-opacity="0.6" stroke-linejoin="round" points="40.00,329.36 41.90,328.12 42.91,327.11 43.93,326.59 44.94,325.56 45.96,324.82 46.97,323.67 47.99,322.72 49.00,322.19 50.06,321.39 51.11,320.41 52.17,319.48 53.23,318.59 54.29,317.64 55.34,316.44 56.40,315.71 57.43,315.61 58.47,315.42 59.50,315.42 60.53,315.57 61.57,315.56 62.60,315.82 63.63,315.97 64.67,315.67 65.70,315.96 66.97,314.43 68.23,312.84 69.50,310.92 70.50,309.68 71.50,308.54 72.50,307.37 73.50,306.22 74.67,305.87 75.85,305.44 77.03,304.80 78.20,303.99 79.50,302.29 80.80,300.58 82.10,298.35 83.27,298.15 84.45,297.75 85.62,297.12 86.80,296.55 88.07,295.79 89.33,295.01 90.60,294.77 91.90,293.40 93.20,292.58 94.50,291.58 95.70,290.24 96.90,289.24 98.10,288.57 99.30,287.43 100.30,286.38 101.30,285.63 102.30,284.92 103.30,284.64 104.33,284.02 105.37,283.05 106.40,282.90 107.67,282.25 108.93,281.33 110.20,280.50 110.70,274.30 112.00,273.50 113.60,276.40 114.60,274.00 115.70,272.90 116.80,275.00 117.90,276.40 119.00,272.00 120.00,269.30 120.70,272.00 121.40,275.00 122.20,272.00 122.90,270.00 124.00,271.80 125.00,272.90 126.00,270.00 127.10,267.90 127.90,270.00 128.60,271.40 129.30,268.50 130.00,266.40 131.00,268.00 132.10,269.30 133.20,268.30 134.50,266.80 135.65,266.25 136.80,265.43 137.95,264.78 139.10,264.78 140.40,264.29 141.70,263.92 143.00,263.86 144.13,263.43 145.27,263.56 146.40,263.40 147.48,263.21 148.56,263.41 149.64,263.62 150.72,263.76 151.80,264.15 152.90,264.50 154.00,265.13 155.10,265.50 156.20,266.51 157.30,266.71 158.43,267.37 159.55,268.05 160.68,268.84 161.80,269.15 162.95,270.45 164.10,271.20 165.25,272.22 166.40,273.21 167.48,274.17 168.56,275.68 169.64,276.79 170.72,277.94 171.80,279.68 172.90,280.58 174.00,282.04 175.10,283.48 176.20,284.65 177.30,285.80 178.38,287.01 179.46,288.13 180.54,289.37 181.62,290.06 182.70,291.44 183.85,292.70 185.00,294.17 186.07,295.76 187.13,296.90 188.20,298.24 189.24,299.94 190.28,301.61 191.32,302.91 192.36,304.59 193.40,306.10 194.60,308.24 195.80,310.48 197.00,312.47 198.07,314.62 199.13,316.69 200.20,319.06 201.30,320.65 202.40,322.49 203.50,324.27 204.67,325.49 205.83,327.30 207.00,329.17 208.25,331.15 209.50,332.78 210.75,334.97 212.00,337.37 213.80,341.74 215.40,349.00"/>
<path d="M233.00,348.40 L233.00,349.00 L233.20,330.60 L234.40,332.00 L234.60,349.00 L234.60,348.40 Z" fill="#f0b02f" fill-opacity="0.85"/>
<path d="M236.60,348.40 L236.60,349.00 L236.80,341.60 L237.60,342.50 L237.80,349.00 L237.80,348.40 Z" fill="#f0b02f" fill-opacity="0.85"/>
<path d="M56.40,348.40 L56.40,349.00 L56.50,340.60 L61.00,338.60 L66.50,336.00 L71.90,331.30 L77.40,327.40 L81.30,327.40 L84.00,323.50 L86.80,319.60 L91.40,313.40 L94.50,306.40 L95.80,309.50 L98.60,305.00 L99.30,302.90 L103.60,300.70 L104.30,298.60 L109.30,295.70 L111.00,294.30 L111.20,278.60 L112.20,278.60 L112.50,292.90 L115.20,290.70 L115.40,279.30 L116.30,279.30 L116.60,289.30 L119.30,287.10 L120.20,286.50 L120.40,279.30 L122.20,279.30 L122.60,284.80 L123.30,284.30 L124.20,282.00 L125.00,280.00 L126.40,282.10 L127.90,278.60 L129.30,280.70 L130.70,276.40 L132.10,278.60 L134.30,276.40 L135.44,276.04 L136.58,275.68 L137.72,275.32 L138.86,274.96 L140.00,274.60 L141.12,274.25 L142.25,273.90 L143.38,273.55 L144.50,273.20 L145.54,272.89 L146.59,272.57 L147.63,272.26 L148.67,271.94 L149.71,271.63 L150.76,271.31 L151.80,271.00 L152.84,270.74 L153.89,270.49 L154.93,270.23 L155.97,269.97 L157.01,269.71 L158.06,269.46 L159.10,269.20 L160.40,269.13 L161.70,269.07 L163.00,269.00 L164.13,269.30 L165.27,269.60 L166.40,269.90 L167.48,270.56 L168.56,271.22 L169.64,271.88 L170.72,272.54 L171.80,273.20 L172.90,274.10 L174.00,275.00 L175.10,275.90 L176.20,276.80 L177.30,277.70 L178.38,278.80 L179.46,279.90 L180.54,281.00 L181.62,282.10 L182.70,283.20 L183.85,285.35 L185.00,287.50 L186.07,287.78 L187.13,288.25 L188.20,290.24 L189.24,291.71 L190.28,293.17 L191.32,292.93 L192.36,295.29 L193.40,296.42 L194.55,296.74 L195.70,299.57 L196.85,300.59 L198.00,300.59 L198.00,301.28 L199.30,301.28 L199.30,303.87 L200.60,303.87 L200.60,304.47 L201.90,304.47 L201.90,305.27 L202.93,305.27 L202.93,307.40 L203.95,307.40 L203.95,309.32 L204.97,309.32 L204.97,308.74 L206.00,308.74 L206.00,309.82 L207.07,309.82 L207.07,312.95 L208.15,312.95 L208.15,313.30 L209.23,313.30 L209.23,314.68 L210.30,314.68 L210.30,314.60 L211.35,314.60 L211.35,318.27 L212.40,318.27 L212.40,316.00 L213.45,316.00 L213.45,320.15 L214.50,320.15 L214.50,319.92 L215.57,319.92 L215.57,319.79 L216.65,319.79 L216.65,322.06 L217.73,322.06 L217.73,324.79 L218.80,324.79 L218.80,323.63 L219.80,323.63 L219.80,322.94 L220.80,322.94 L220.80,326.71 L221.80,326.71 L221.80,326.02 L222.80,326.02 L222.80,326.59 L223.80,326.59 L223.80,325.67 L224.82,325.67 L224.82,326.55 L225.84,326.55 L225.84,327.60 L226.86,327.60 L226.86,330.46 L227.88,330.46 L227.88,330.39 L228.90,330.39 L228.90,332.90 L230.03,332.90 L230.03,332.70 L231.17,332.70 L231.17,335.66 L232.30,335.66 L232.30,335.21 L233.30,335.21 L233.30,340.52 L234.20,349.00 L234.20,348.40 Z" fill="#6170f4" fill-opacity="0.65"/>
<polyline fill="none" stroke="#6170f4" stroke-width="0.8" stroke-opacity="0.7" stroke-linejoin="round" points="56.40,349.00 56.50,340.60 61.00,338.60 66.50,336.00 71.90,331.30 77.40,327.40 81.30,327.40 84.00,323.50 86.80,319.60 91.40,313.40 94.50,306.40 95.80,309.50 98.60,305.00 99.30,302.90 103.60,300.70 104.30,298.60 109.30,295.70 111.00,294.30 111.20,278.60 112.20,278.60 112.50,292.90 115.20,290.70 115.40,279.30 116.30,279.30 116.60,289.30 119.30,287.10 120.20,286.50 120.40,279.30 122.20,279.30 122.60,284.80 123.30,284.30 124.20,282.00 125.00,280.00 126.40,282.10 127.90,278.60 129.30,280.70 130.70,276.40 132.10,278.60 134.30,276.40 135.44,276.04 136.58,275.68 137.72,275.32 138.86,274.96 140.00,274.60 141.12,274.25 142.25,273.90 143.38,273.55 144.50,273.20 145.54,272.89 146.59,272.57 147.63,272.26 148.67,271.94 149.71,271.63 150.76,271.31 151.80,271.00 152.84,270.74 153.89,270.49 154.93,270.23 155.97,269.97 157.01,269.71 158.06,269.46 159.10,269.20 160.40,269.13 161.70,269.07 163.00,269.00 164.13,269.30 165.27,269.60 166.40,269.90 167.48,270.56 168.56,271.22 169.64,271.88 170.72,272.54 171.80,273.20 172.90,274.10 174.00,275.00 175.10,275.90 176.20,276.80 177.30,277.70 178.38,278.80 179.46,279.90 180.54,281.00 181.62,282.10 182.70,283.20 183.85,285.35 185.00,287.50 186.07,287.78 187.13,288.25 188.20,290.24 189.24,291.71 190.28,293.17 191.32,292.93 192.36,295.29 193.40,296.42 194.55,296.74 195.70,299.57 196.85,300.59 198.00,300.59 198.00,301.28 199.30,301.28 199.30,303.87 200.60,303.87 200.60,304.47 201.90,304.47 201.90,305.27 202.93,305.27 202.93,307.40 203.95,307.40 203.95,309.32 204.97,309.32 204.97,308.74 206.00,308.74 206.00,309.82 207.07,309.82 207.07,312.95 208.15,312.95 208.15,313.30 209.23,313.30 209.23,314.68 210.30,314.68 210.30,314.60 211.35,314.60 211.35,318.27 212.40,318.27 212.40,316.00 213.45,316.00 213.45,320.15 214.50,320.15 214.50,319.92 215.57,319.92 215.57,319.79 216.65,319.79 216.65,322.06 217.73,322.06 217.73,324.79 218.80,324.79 218.80,323.63 219.80,323.63 219.80,322.94 220.80,322.94 220.80,326.71 221.80,326.71 221.80,326.02 222.80,326.02 222.80,326.59 223.80,326.59 223.80,325.67 224.82,325.67 224.82,326.55 225.84,326.55 225.84,327.60 226.86,327.60 226.86,330.46 227.88,330.46 227.88,330.39 228.90,330.39 228.90,332.90 230.03,332.90 230.03,332.70 231.17,332.70 231.17,335.66 232.30,335.66 232.30,335.21 233.30,335.21 233.30,340.52 234.20,349.00"/>
</g>
<text transform="translate(8.90,280.50) scale(1.1,1) rotate(-90)" text-anchor="middle" fill="#000" stroke="#000" stroke-width="0.22" font-size="10.35" >Number of synapses</text>
<text transform="translate(143.55,381.70) scale(1.0,1)" text-anchor="middle" fill="#000" stroke="#000" stroke-width="0.22" font-size="11.5" >Weight updates in 1 epoch</text>
<text transform="translate(2.40,204.20) scale(1.1,1)" text-anchor="start" fill="#000" stroke="#000" stroke-width="0.22" font-size="10.35" >b)</text>
<text transform="translate(68.80,217.70) scale(1.1,1)" text-anchor="start" fill="#000" stroke="#000" stroke-width="0.22" font-size="10.35" >μ<tspan font-size="6.6" dy="2.6">0</tspan><tspan dy="-2.6">&#8203;</tspan> = 0.032 (5 bit)</text>
<text transform="translate(68.80,233.90) scale(1.1,1)" text-anchor="start" fill="#000" stroke="#000" stroke-width="0.22" font-size="10.35" >T<tspan font-size="6.6" dy="2.6">pot</tspan><tspan dy="-2.6">&#8203;</tspan> = 20 ms</text>
<rect x="186.0" y="224.5" width="24.6" height="11.6" fill="#82b891" stroke="#6a9c78" stroke-width="0.8"/>
<text transform="translate(214.20,234.50) scale(1.1,1)" text-anchor="start" fill="#000" stroke="#000" stroke-width="0.22" font-size="10.35" >0</text>
<rect x="186.0" y="238.4" width="24.6" height="11.6" fill="#b55c5c" stroke="#9a4848" stroke-width="0.8"/>
<text transform="translate(214.20,248.40) scale(1.1,1)" text-anchor="start" fill="#000" stroke="#000" stroke-width="0.22" font-size="10.35" >0.5</text>
<rect x="186.0" y="252.5" width="24.6" height="11.6" fill="#f5cc78" stroke="#d4ac5c" stroke-width="0.8"/>
<text transform="translate(214.20,262.50) scale(1.1,1)" text-anchor="start" fill="#000" stroke="#000" stroke-width="0.22" font-size="10.35" >1.25</text>
<rect x="186.0" y="266.5" width="24.6" height="11.6" fill="#98a2f8" stroke="#7c88dc" stroke-width="0.8"/>
<text transform="translate(214.20,276.50) scale(1.1,1)" text-anchor="start" fill="#000" stroke="#000" stroke-width="0.22" font-size="10.35" >2.0</text>
<text transform="translate(214.00,219.00) scale(1.1,1)" text-anchor="start" fill="#000" stroke="#000" stroke-width="0.22" font-size="10.35" text-decoration="underline">μ<tspan font-size="6.6" dy="2.6">r</tspan><tspan dy="-2.6">&#8203;</tspan>/μ<tspan font-size="6.6" dy="2.6">0</tspan><tspan dy="-2.6">&#8203;</tspan></text>
<rect x="296.4" y="202.2" width="204.00" height="146.20" fill="none" stroke="#000" stroke-width="1.2"/>
<text transform="translate(297.10,365.40) scale(1.1,1)" text-anchor="middle" fill="#000" stroke="#000" stroke-width="0.22" font-size="10.35" >10<tspan font-size="6.8" dy="-5.0">0</tspan></text>
<line x1="311.75" y1="348.40" x2="311.75" y2="345.60" stroke="#000" stroke-width="1.0" />
<line x1="311.75" y1="202.20" x2="311.75" y2="205.00" stroke="#000" stroke-width="1.0" />
<line x1="320.73" y1="348.40" x2="320.73" y2="345.60" stroke="#000" stroke-width="1.0" />
<line x1="320.73" y1="202.20" x2="320.73" y2="205.00" stroke="#000" stroke-width="1.0" />
<line x1="327.11" y1="348.40" x2="327.11" y2="345.60" stroke="#000" stroke-width="1.0" />
<line x1="327.11" y1="202.20" x2="327.11" y2="205.00" stroke="#000" stroke-width="1.0" />
<line x1="332.05" y1="348.40" x2="332.05" y2="345.60" stroke="#000" stroke-width="1.0" />
<line x1="332.05" y1="202.20" x2="332.05" y2="205.00" stroke="#000" stroke-width="1.0" />
<line x1="336.09" y1="348.40" x2="336.09" y2="345.60" stroke="#000" stroke-width="1.0" />
<line x1="336.09" y1="202.20" x2="336.09" y2="205.00" stroke="#000" stroke-width="1.0" />
<line x1="339.50" y1="348.40" x2="339.50" y2="345.60" stroke="#000" stroke-width="1.0" />
<line x1="339.50" y1="202.20" x2="339.50" y2="205.00" stroke="#000" stroke-width="1.0" />
<line x1="342.46" y1="348.40" x2="342.46" y2="345.60" stroke="#000" stroke-width="1.0" />
<line x1="342.46" y1="202.20" x2="342.46" y2="205.00" stroke="#000" stroke-width="1.0" />
<line x1="345.07" y1="348.40" x2="345.07" y2="345.60" stroke="#000" stroke-width="1.0" />
<line x1="345.07" y1="202.20" x2="345.07" y2="205.00" stroke="#000" stroke-width="1.0" />
<line x1="347.40" y1="348.40" x2="347.40" y2="343.90" stroke="#000" stroke-width="1.0" />
<line x1="347.40" y1="202.20" x2="347.40" y2="206.70" stroke="#000" stroke-width="1.0" />
<text transform="translate(348.10,365.40) scale(1.1,1)" text-anchor="middle" fill="#000" stroke="#000" stroke-width="0.22" font-size="10.35" >10<tspan font-size="6.8" dy="-5.0">1</tspan></text>
<line x1="362.75" y1="348.40" x2="362.75" y2="345.60" stroke="#000" stroke-width="1.0" />
<line x1="362.75" y1="202.20" x2="362.75" y2="205.00" stroke="#000" stroke-width="1.0" />
<line x1="371.73" y1="348.40" x2="371.73" y2="345.60" stroke="#000" stroke-width="1.0" />
<line x1="371.73" y1="202.20" x2="371.73" y2="205.00" stroke="#000" stroke-width="1.0" />
<line x1="378.11" y1="348.40" x2="378.11" y2="345.60" stroke="#000" stroke-width="1.0" />
<line x1="378.11" y1="202.20" x2="378.11" y2="205.00" stroke="#000" stroke-width="1.0" />
<line x1="383.05" y1="348.40" x2="383.05" y2="345.60" stroke="#000" stroke-width="1.0" />
<line x1="383.05" y1="202.20" x2="383.05" y2="205.00" stroke="#000" stroke-width="1.0" />
<line x1="387.09" y1="348.40" x2="387.09" y2="345.60" stroke="#000" stroke-width="1.0" />
<line x1="387.09" y1="202.20" x2="387.09" y2="205.00" stroke="#000" stroke-width="1.0" />
<line x1="390.50" y1="348.40" x2="390.50" y2="345.60" stroke="#000" stroke-width="1.0" />
<line x1="390.50" y1="202.20" x2="390.50" y2="205.00" stroke="#000" stroke-width="1.0" />
<line x1="393.46" y1="348.40" x2="393.46" y2="345.60" stroke="#000" stroke-width="1.0" />
<line x1="393.46" y1="202.20" x2="393.46" y2="205.00" stroke="#000" stroke-width="1.0" />
<line x1="396.07" y1="348.40" x2="396.07" y2="345.60" stroke="#000" stroke-width="1.0" />
<line x1="396.07" y1="202.20" x2="396.07" y2="205.00" stroke="#000" stroke-width="1.0" />
<line x1="398.40" y1="348.40" x2="398.40" y2="343.90" stroke="#000" stroke-width="1.0" />
<line x1="398.40" y1="202.20" x2="398.40" y2="206.70" stroke="#000" stroke-width="1.0" />
<text transform="translate(399.10,365.40) scale(1.1,1)" text-anchor="middle" fill="#000" stroke="#000" stroke-width="0.22" font-size="10.35" >10<tspan font-size="6.8" dy="-5.0">2</tspan></text>
<line x1="413.75" y1="348.40" x2="413.75" y2="345.60" stroke="#000" stroke-width="1.0" />
<line x1="413.75" y1="202.20" x2="413.75" y2="205.00" stroke="#000" stroke-width="1.0" />
<line x1="422.73" y1="348.40" x2="422.73" y2="345.60" stroke="#000" stroke-width="1.0" />
<line x1="422.73" y1="202.20" x2="422.73" y2="205.00" stroke="#000" stroke-width="1.0" />
<line x1="429.11" y1="348.40" x2="429.11" y2="345.60" stroke="#000" stroke-width="1.0" />
<line x1="429.11" y1="202.20" x2="429.11" y2="205.00" stroke="#000" stroke-width="1.0" />
<line x1="434.05" y1="348.40" x2="434.05" y2="345.60" stroke="#000" stroke-width="1.0" />
<line x1="434.05" y1="202.20" x2="434.05" y2="205.00" stroke="#000" stroke-width="1.0" />
<line x1="438.09" y1="348.40" x2="438.09" y2="345.60" stroke="#000" stroke-width="1.0" />
<line x1="438.09" y1="202.20" x2="438.09" y2="205.00" stroke="#000" stroke-width="1.0" />
<line x1="441.50" y1="348.40" x2="441.50" y2="345.60" stroke="#000" stroke-width="1.0" />
<line x1="441.50" y1="202.20" x2="441.50" y2="205.00" stroke="#000" stroke-width="1.0" />
<line x1="444.46" y1="348.40" x2="444.46" y2="345.60" stroke="#000" stroke-width="1.0" />
<line x1="444.46" y1="202.20" x2="444.46" y2="205.00" stroke="#000" stroke-width="1.0" />
<line x1="447.07" y1="348.40" x2="447.07" y2="345.60" stroke="#000" stroke-width="1.0" />
<line x1="447.07" y1="202.20" x2="447.07" y2="205.00" stroke="#000" stroke-width="1.0" />
<line x1="449.40" y1="348.40" x2="449.40" y2="343.90" stroke="#000" stroke-width="1.0" />
<line x1="449.40" y1="202.20" x2="449.40" y2="206.70" stroke="#000" stroke-width="1.0" />
<text transform="translate(450.10,365.40) scale(1.1,1)" text-anchor="middle" fill="#000" stroke="#000" stroke-width="0.22" font-size="10.35" >10<tspan font-size="6.8" dy="-5.0">3</tspan></text>
<line x1="464.75" y1="348.40" x2="464.75" y2="345.60" stroke="#000" stroke-width="1.0" />
<line x1="464.75" y1="202.20" x2="464.75" y2="205.00" stroke="#000" stroke-width="1.0" />
<line x1="473.73" y1="348.40" x2="473.73" y2="345.60" stroke="#000" stroke-width="1.0" />
<line x1="473.73" y1="202.20" x2="473.73" y2="205.00" stroke="#000" stroke-width="1.0" />
<line x1="480.11" y1="348.40" x2="480.11" y2="345.60" stroke="#000" stroke-width="1.0" />
<line x1="480.11" y1="202.20" x2="480.11" y2="205.00" stroke="#000" stroke-width="1.0" />
<line x1="485.05" y1="348.40" x2="485.05" y2="345.60" stroke="#000" stroke-width="1.0" />
<line x1="485.05" y1="202.20" x2="485.05" y2="205.00" stroke="#000" stroke-width="1.0" />
<line x1="489.09" y1="348.40" x2="489.09" y2="345.60" stroke="#000" stroke-width="1.0" />
<line x1="489.09" y1="202.20" x2="489.09" y2="205.00" stroke="#000" stroke-width="1.0" />
<line x1="492.50" y1="348.40" x2="492.50" y2="345.60" stroke="#000" stroke-width="1.0" />
<line x1="492.50" y1="202.20" x2="492.50" y2="205.00" stroke="#000" stroke-width="1.0" />
<line x1="495.46" y1="348.40" x2="495.46" y2="345.60" stroke="#000" stroke-width="1.0" />
<line x1="495.46" y1="202.20" x2="495.46" y2="205.00" stroke="#000" stroke-width="1.0" />
<line x1="498.07" y1="348.40" x2="498.07" y2="345.60" stroke="#000" stroke-width="1.0" />
<line x1="498.07" y1="202.20" x2="498.07" y2="205.00" stroke="#000" stroke-width="1.0" />
<text transform="translate(501.10,365.40) scale(1.1,1)" text-anchor="middle" fill="#000" stroke="#000" stroke-width="0.22" font-size="10.35" >10<tspan font-size="6.8" dy="-5.0">4</tspan></text>
<text transform="translate(290.40,352.30) scale(1.1,1)" text-anchor="end" fill="#000" stroke="#000" stroke-width="0.22" font-size="10.35" >10<tspan font-size="6.8" dy="-5.0">0</tspan></text>
<line x1="296.40" y1="341.06" x2="293.40" y2="341.06" stroke="#000" stroke-width="1.0" />
<line x1="500.40" y1="341.06" x2="497.40" y2="341.06" stroke="#000" stroke-width="1.0" />
<line x1="296.40" y1="336.77" x2="293.40" y2="336.77" stroke="#000" stroke-width="1.0" />
<line x1="500.40" y1="336.77" x2="497.40" y2="336.77" stroke="#000" stroke-width="1.0" />
<line x1="296.40" y1="333.73" x2="293.40" y2="333.73" stroke="#000" stroke-width="1.0" />
<line x1="500.40" y1="333.73" x2="497.40" y2="333.73" stroke="#000" stroke-width="1.0" />
<line x1="296.40" y1="331.37" x2="293.40" y2="331.37" stroke="#000" stroke-width="1.0" />
<line x1="500.40" y1="331.37" x2="497.40" y2="331.37" stroke="#000" stroke-width="1.0" />
<line x1="296.40" y1="329.44" x2="293.40" y2="329.44" stroke="#000" stroke-width="1.0" />
<line x1="500.40" y1="329.44" x2="497.40" y2="329.44" stroke="#000" stroke-width="1.0" />
<line x1="296.40" y1="327.81" x2="293.40" y2="327.81" stroke="#000" stroke-width="1.0" />
<line x1="500.40" y1="327.81" x2="497.40" y2="327.81" stroke="#000" stroke-width="1.0" />
<line x1="296.40" y1="326.39" x2="293.40" y2="326.39" stroke="#000" stroke-width="1.0" />
<line x1="500.40" y1="326.39" x2="497.40" y2="326.39" stroke="#000" stroke-width="1.0" />
<line x1="296.40" y1="325.15" x2="293.40" y2="325.15" stroke="#000" stroke-width="1.0" />
<line x1="500.40" y1="325.15" x2="497.40" y2="325.15" stroke="#000" stroke-width="1.0" />
<line x1="296.40" y1="324.03" x2="302.20" y2="324.03" stroke="#000" stroke-width="1.0" />
<line x1="500.40" y1="324.03" x2="495.90" y2="324.03" stroke="#000" stroke-width="1.0" />
<text transform="translate(290.40,327.93) scale(1.1,1)" text-anchor="end" fill="#000" stroke="#000" stroke-width="0.22" font-size="10.35" >10<tspan font-size="6.8" dy="-5.0">1</tspan></text>
<line x1="296.40" y1="316.70" x2="293.40" y2="316.70" stroke="#000" stroke-width="1.0" />
<line x1="500.40" y1="316.70" x2="497.40" y2="316.70" stroke="#000" stroke-width="1.0" />
<line x1="296.40" y1="312.41" x2="293.40" y2="312.41" stroke="#000" stroke-width="1.0" />
<line x1="500.40" y1="312.41" x2="497.40" y2="312.41" stroke="#000" stroke-width="1.0" />
<line x1="296.40" y1="309.36" x2="293.40" y2="309.36" stroke="#000" stroke-width="1.0" />
<line x1="500.40" y1="309.36" x2="497.40" y2="309.36" stroke="#000" stroke-width="1.0" />
<line x1="296.40" y1="307.00" x2="293.40" y2="307.00" stroke="#000" stroke-width="1.0" />
<line x1="500.40" y1="307.00" x2="497.40" y2="307.00" stroke="#000" stroke-width="1.0" />
<line x1="296.40" y1="305.07" x2="293.40" y2="305.07" stroke="#000" stroke-width="1.0" />
<line x1="500.40" y1="305.07" x2="497.40" y2="305.07" stroke="#000" stroke-width="1.0" />
<line x1="296.40" y1="303.44" x2="293.40" y2="303.44" stroke="#000" stroke-width="1.0" />
<line x1="500.40" y1="303.44" x2="497.40" y2="303.44" stroke="#000" stroke-width="1.0" />
<line x1="296.40" y1="302.03" x2="293.40" y2="302.03" stroke="#000" stroke-width="1.0" />
<line x1="500.40" y1="302.03" x2="497.40" y2="302.03" stroke="#000" stroke-width="1.0" />
<line x1="296.40" y1="300.78" x2="293.40" y2="300.78" stroke="#000" stroke-width="1.0" />
<line x1="500.40" y1="300.78" x2="497.40" y2="300.78" stroke="#000" stroke-width="1.0" />
<line x1="296.40" y1="299.67" x2="302.20" y2="299.67" stroke="#000" stroke-width="1.0" />
<line x1="500.40" y1="299.67" x2="495.90" y2="299.67" stroke="#000" stroke-width="1.0" />
<text transform="translate(290.40,303.57) scale(1.1,1)" text-anchor="end" fill="#000" stroke="#000" stroke-width="0.22" font-size="10.35" >10<tspan font-size="6.8" dy="-5.0">2</tspan></text>
<line x1="296.40" y1="292.33" x2="293.40" y2="292.33" stroke="#000" stroke-width="1.0" />
<line x1="500.40" y1="292.33" x2="497.40" y2="292.33" stroke="#000" stroke-width="1.0" />
<line x1="296.40" y1="288.04" x2="293.40" y2="288.04" stroke="#000" stroke-width="1.0" />
<line x1="500.40" y1="288.04" x2="497.40" y2="288.04" stroke="#000" stroke-width="1.0" />
<line x1="296.40" y1="285.00" x2="293.40" y2="285.00" stroke="#000" stroke-width="1.0" />
<line x1="500.40" y1="285.00" x2="497.40" y2="285.00" stroke="#000" stroke-width="1.0" />
<line x1="296.40" y1="282.64" x2="293.40" y2="282.64" stroke="#000" stroke-width="1.0" />
<line x1="500.40" y1="282.64" x2="497.40" y2="282.64" stroke="#000" stroke-width="1.0" />
<line x1="296.40" y1="280.71" x2="293.40" y2="280.71" stroke="#000" stroke-width="1.0" />
<line x1="500.40" y1="280.71" x2="497.40" y2="280.71" stroke="#000" stroke-width="1.0" />
<line x1="296.40" y1="279.07" x2="293.40" y2="279.07" stroke="#000" stroke-width="1.0" />
<line x1="500.40" y1="279.07" x2="497.40" y2="279.07" stroke="#000" stroke-width="1.0" />
<line x1="296.40" y1="277.66" x2="293.40" y2="277.66" stroke="#000" stroke-width="1.0" />
<line x1="500.40" y1="277.66" x2="497.40" y2="277.66" stroke="#000" stroke-width="1.0" />
<line x1="296.40" y1="276.41" x2="293.40" y2="276.41" stroke="#000" stroke-width="1.0" />
<line x1="500.40" y1="276.41" x2="497.40" y2="276.41" stroke="#000" stroke-width="1.0" />
<line x1="296.40" y1="275.30" x2="302.20" y2="275.30" stroke="#000" stroke-width="1.0" />
<line x1="500.40" y1="275.30" x2="495.90" y2="275.30" stroke="#000" stroke-width="1.0" />
<text transform="translate(290.40,279.20) scale(1.1,1)" text-anchor="end" fill="#000" stroke="#000" stroke-width="0.22" font-size="10.35" >10<tspan font-size="6.8" dy="-5.0">3</tspan></text>
<line x1="296.40" y1="267.96" x2="293.40" y2="267.96" stroke="#000" stroke-width="1.0" />
<line x1="500.40" y1="267.96" x2="497.40" y2="267.96" stroke="#000" stroke-width="1.0" />
<line x1="296.40" y1="263.67" x2="293.40" y2="263.67" stroke="#000" stroke-width="1.0" />
<line x1="500.40" y1="263.67" x2="497.40" y2="263.67" stroke="#000" stroke-width="1.0" />
<line x1="296.40" y1="260.63" x2="293.40" y2="260.63" stroke="#000" stroke-width="1.0" />
<line x1="500.40" y1="260.63" x2="497.40" y2="260.63" stroke="#000" stroke-width="1.0" />
<line x1="296.40" y1="258.27" x2="293.40" y2="258.27" stroke="#000" stroke-width="1.0" />
<line x1="500.40" y1="258.27" x2="497.40" y2="258.27" stroke="#000" stroke-width="1.0" />
<line x1="296.40" y1="256.34" x2="293.40" y2="256.34" stroke="#000" stroke-width="1.0" />
<line x1="500.40" y1="256.34" x2="497.40" y2="256.34" stroke="#000" stroke-width="1.0" />
<line x1="296.40" y1="254.71" x2="293.40" y2="254.71" stroke="#000" stroke-width="1.0" />
<line x1="500.40" y1="254.71" x2="497.40" y2="254.71" stroke="#000" stroke-width="1.0" />
<line x1="296.40" y1="253.29" x2="293.40" y2="253.29" stroke="#000" stroke-width="1.0" />
<line x1="500.40" y1="253.29" x2="497.40" y2="253.29" stroke="#000" stroke-width="1.0" />
<line x1="296.40" y1="252.05" x2="293.40" y2="252.05" stroke="#000" stroke-width="1.0" />
<line x1="500.40" y1="252.05" x2="497.40" y2="252.05" stroke="#000" stroke-width="1.0" />
<line x1="296.40" y1="250.93" x2="302.20" y2="250.93" stroke="#000" stroke-width="1.0" />
<line x1="500.40" y1="250.93" x2="495.90" y2="250.93" stroke="#000" stroke-width="1.0" />
<text transform="translate(290.40,254.83) scale(1.1,1)" text-anchor="end" fill="#000" stroke="#000" stroke-width="0.22" font-size="10.35" >10<tspan font-size="6.8" dy="-5.0">4</tspan></text>
<line x1="296.40" y1="243.60" x2="293.40" y2="243.60" stroke="#000" stroke-width="1.0" />
<line x1="500.40" y1="243.60" x2="497.40" y2="243.60" stroke="#000" stroke-width="1.0" />
<line x1="296.40" y1="239.31" x2="293.40" y2="239.31" stroke="#000" stroke-width="1.0" />
<line x1="500.40" y1="239.31" x2="497.40" y2="239.31" stroke="#000" stroke-width="1.0" />
<line x1="296.40" y1="236.26" x2="293.40" y2="236.26" stroke="#000" stroke-width="1.0" />
<line x1="500.40" y1="236.26" x2="497.40" y2="236.26" stroke="#000" stroke-width="1.0" />
<line x1="296.40" y1="233.90" x2="293.40" y2="233.90" stroke="#000" stroke-width="1.0" />
<line x1="500.40" y1="233.90" x2="497.40" y2="233.90" stroke="#000" stroke-width="1.0" />
<line x1="296.40" y1="231.97" x2="293.40" y2="231.97" stroke="#000" stroke-width="1.0" />
<line x1="500.40" y1="231.97" x2="497.40" y2="231.97" stroke="#000" stroke-width="1.0" />
<line x1="296.40" y1="230.34" x2="293.40" y2="230.34" stroke="#000" stroke-width="1.0" />
<line x1="500.40" y1="230.34" x2="497.40" y2="230.34" stroke="#000" stroke-width="1.0" />
<line x1="296.40" y1="228.93" x2="293.40" y2="228.93" stroke="#000" stroke-width="1.0" />
<line x1="500.40" y1="228.93" x2="497.40" y2="228.93" stroke="#000" stroke-width="1.0" />
<line x1="296.40" y1="227.68" x2="293.40" y2="227.68" stroke="#000" stroke-width="1.0" />
<line x1="500.40" y1="227.68" x2="497.40" y2="227.68" stroke="#000" stroke-width="1.0" />
<line x1="296.40" y1="226.57" x2="302.20" y2="226.57" stroke="#000" stroke-width="1.0" />
<line x1="500.40" y1="226.57" x2="495.90" y2="226.57" stroke="#000" stroke-width="1.0" />
<text transform="translate(290.40,230.47) scale(1.1,1)" text-anchor="end" fill="#000" stroke="#000" stroke-width="0.22" font-size="10.35" >10<tspan font-size="6.8" dy="-5.0">5</tspan></text>
<line x1="296.40" y1="219.23" x2="293.40" y2="219.23" stroke="#000" stroke-width="1.0" />
<line x1="500.40" y1="219.23" x2="497.40" y2="219.23" stroke="#000" stroke-width="1.0" />
<line x1="296.40" y1="214.94" x2="293.40" y2="214.94" stroke="#000" stroke-width="1.0" />
<line x1="500.40" y1="214.94" x2="497.40" y2="214.94" stroke="#000" stroke-width="1.0" />
<line x1="296.40" y1="211.90" x2="293.40" y2="211.90" stroke="#000" stroke-width="1.0" />
<line x1="500.40" y1="211.90" x2="497.40" y2="211.90" stroke="#000" stroke-width="1.0" />
<line x1="296.40" y1="209.54" x2="293.40" y2="209.54" stroke="#000" stroke-width="1.0" />
<line x1="500.40" y1="209.54" x2="497.40" y2="209.54" stroke="#000" stroke-width="1.0" />
<line x1="296.40" y1="207.61" x2="293.40" y2="207.61" stroke="#000" stroke-width="1.0" />
<line x1="500.40" y1="207.61" x2="497.40" y2="207.61" stroke="#000" stroke-width="1.0" />
<line x1="296.40" y1="205.97" x2="293.40" y2="205.97" stroke="#000" stroke-width="1.0" />
<line x1="500.40" y1="205.97" x2="497.40" y2="205.97" stroke="#000" stroke-width="1.0" />
<line x1="296.40" y1="204.56" x2="293.40" y2="204.56" stroke="#000" stroke-width="1.0" />
<line x1="500.40" y1="204.56" x2="497.40" y2="204.56" stroke="#000" stroke-width="1.0" />
<line x1="296.40" y1="203.31" x2="293.40" y2="203.31" stroke="#000" stroke-width="1.0" />
<line x1="500.40" y1="203.31" x2="497.40" y2="203.31" stroke="#000" stroke-width="1.0" />
<text transform="translate(290.40,206.10) scale(1.1,1)" text-anchor="end" fill="#000" stroke="#000" stroke-width="0.22" font-size="10.35" >10<tspan font-size="6.8" dy="-5.0">6</tspan></text>
<clipPath id="clipc"><rect x="295.79999999999995" y="202.2" width="204.60" height="146.20"/></clipPath>
<g clip-path="url(#clipc)">
<path d="M295.50,348.40 L295.50,242.70 L296.54,243.04 L297.57,243.39 L298.61,243.73 L299.64,244.07 L300.68,244.41 L301.71,244.76 L302.75,245.10 L303.79,245.44 L304.82,245.79 L305.86,246.13 L306.89,246.47 L307.93,246.81 L308.96,247.16 L310.00,247.50 L311.00,247.82 L312.00,248.14 L313.00,248.46 L314.00,248.78 L315.00,249.10 L316.00,249.42 L317.00,249.74 L318.00,250.06 L319.00,250.38 L320.00,250.70 L321.00,251.02 L322.00,251.34 L323.00,251.66 L324.00,251.98 L325.00,252.30 L326.00,252.63 L327.00,252.97 L328.00,253.30 L329.00,253.63 L330.00,253.97 L331.00,254.30 L332.00,254.63 L333.00,254.97 L334.00,255.30 L335.00,255.63 L336.00,255.97 L337.00,256.30 L338.00,256.63 L339.00,256.97 L340.00,257.30 L341.00,257.61 L342.00,257.93 L343.00,258.24 L344.00,258.56 L345.00,258.87 L346.00,259.19 L347.00,259.50 L348.00,259.81 L349.00,260.13 L350.00,260.44 L351.00,260.76 L352.00,261.07 L353.00,261.39 L354.00,261.70 L355.00,261.95 L356.00,262.19 L357.00,262.44 L358.00,262.68 L359.00,262.93 L360.00,263.17 L361.00,263.42 L362.00,263.66 L363.00,263.91 L364.00,264.15 L365.00,264.40 L366.00,264.58 L367.00,264.76 L368.00,264.94 L369.00,265.12 L370.00,265.30 L371.00,265.48 L372.00,265.66 L373.00,265.84 L374.00,266.02 L375.00,266.20 L376.00,266.32 L377.00,266.44 L378.00,266.56 L379.00,266.68 L380.00,266.80 L381.00,266.92 L382.00,267.04 L383.00,267.16 L384.00,267.28 L385.00,267.40 L386.00,267.43 L387.00,267.46 L388.00,267.49 L389.00,267.52 L390.00,267.55 L391.00,267.58 L392.00,267.61 L393.00,267.64 L394.00,267.67 L395.00,267.70 L396.00,267.74 L397.00,267.78 L398.00,267.82 L399.00,267.86 L400.00,267.90 L401.00,268.10 L402.00,268.30 L403.00,268.50 L404.00,268.09 L405.00,268.06 L406.00,268.43 L407.05,268.59 L408.10,269.43 L409.15,269.64 L410.20,269.72 L411.25,270.25 L412.30,270.90 L413.44,270.84 L414.58,271.86 L415.72,272.11 L416.86,272.68 L418.00,273.43 L419.00,273.43 L420.00,273.80 L421.00,274.23 L422.00,274.74 L423.00,275.29 L424.00,276.63 L425.00,277.54 L426.00,278.50 L427.10,279.61 L428.20,280.84 L429.30,281.91 L430.40,283.24 L431.43,284.97 L432.47,287.20 L433.50,288.63 L434.53,290.60 L435.57,292.58 L436.60,295.14 L437.63,297.19 L438.67,299.09 L439.70,300.85 L440.73,302.92 L441.77,305.06 L442.80,307.27 L443.85,309.14 L444.90,311.41 L445.95,313.36 L447.00,315.92 L448.02,318.01 L449.05,319.78 L450.08,321.65 L451.10,324.23 L452.15,326.92 L453.20,330.10 L454.45,332.95 L455.70,336.32 L456.40,340.98 L456.90,349.00 L456.90,348.40 Z" fill="#3f9256" fill-opacity="0.6"/>
<polyline fill="none" stroke="#3f9256" stroke-width="0.9" stroke-opacity="0.9" points="408.10,269.43 409.15,269.64 410.20,269.72 411.25,270.25 412.30,270.90 413.44,270.84 414.58,271.86 415.72,272.11 416.86,272.68 418.00,273.43 419.00,273.43 420.00,273.80 421.00,274.23 422.00,274.74 423.00,275.29 424.00,276.63 425.00,277.54 426.00,278.50 427.10,279.61 428.20,280.84 429.30,281.91 430.40,283.24 431.43,284.97 432.47,287.20 433.50,288.63 434.53,290.60 435.57,292.58 436.60,295.14 437.63,297.19 438.67,299.09 439.70,300.85 440.73,302.92 441.77,305.06 442.80,307.27 443.85,309.14 444.90,311.41 445.95,313.36 447.00,315.92 448.02,318.01 449.05,319.78 450.08,321.65 451.10,324.23 452.15,326.92 453.20,330.10 454.45,332.95 455.70,336.32 456.40,340.98 456.90,349.00"/>
<path d="M295.50,348.40 L295.50,242.70 L296.54,243.04 L297.57,243.39 L298.61,243.73 L299.64,244.07 L300.68,244.41 L301.71,244.76 L302.75,245.10 L303.79,245.44 L304.82,245.79 L305.86,246.13 L306.89,246.47 L307.93,246.81 L308.96,247.16 L310.00,247.50 L311.00,247.82 L312.00,248.14 L313.00,248.46 L314.00,248.78 L315.00,249.10 L316.00,249.42 L317.00,249.74 L318.00,250.06 L319.00,250.38 L320.00,250.70 L321.00,251.02 L322.00,251.34 L323.00,251.66 L324.00,251.98 L325.00,252.30 L326.00,252.63 L327.00,252.97 L328.00,253.30 L329.00,253.63 L330.00,253.97 L331.00,254.30 L332.00,254.63 L333.00,254.97 L334.00,255.30 L335.00,255.63 L336.00,255.97 L337.00,256.30 L338.00,256.63 L339.00,256.97 L340.00,257.30 L341.00,257.61 L342.00,257.93 L343.00,258.24 L344.00,258.56 L345.00,258.87 L346.00,259.19 L347.00,259.50 L348.00,259.81 L349.00,260.13 L350.00,260.44 L351.00,260.76 L352.00,261.07 L353.00,261.39 L354.00,261.70 L355.00,261.95 L356.00,262.19 L357.00,262.44 L358.00,262.68 L359.00,262.93 L360.00,263.17 L361.00,263.42 L362.00,263.66 L363.00,263.91 L364.00,264.15 L365.00,264.40 L366.00,264.58 L367.00,264.76 L368.00,264.94 L369.00,265.12 L370.00,265.30 L371.00,265.48 L372.00,265.66 L373.00,265.84 L374.00,266.02 L375.00,266.20 L376.00,266.32 L377.00,266.44 L378.00,266.56 L379.00,266.68 L380.00,266.80 L381.00,266.92 L382.00,267.04 L383.00,267.16 L384.00,267.28 L385.00,267.40 L386.00,267.43 L387.00,267.46 L388.00,267.49 L389.00,267.52 L390.00,267.55 L391.00,267.58 L392.00,267.61 L393.00,267.64 L394.00,267.67 L395.00,267.70 L396.00,267.74 L397.00,267.78 L398.00,267.82 L399.00,267.86 L400.00,267.90 L401.00,268.10 L402.00,268.30 L403.00,268.50 L402.40,268.09 L403.40,268.06 L404.39,268.43 L405.43,268.59 L406.45,269.43 L407.49,269.64 L408.54,269.72 L409.57,270.25 L410.60,270.90 L411.74,270.84 L412.85,271.86 L413.98,272.11 L415.10,272.68 L416.21,273.43 L417.21,273.43 L418.20,273.80 L419.19,274.23 L420.17,274.74 L421.15,275.29 L422.10,276.63 L423.07,277.54 L424.04,278.50 L425.10,279.61 L426.16,280.84 L427.22,281.91 L428.28,283.24 L429.25,284.97 L430.21,287.20 L431.19,288.63 L432.16,290.60 L433.12,292.58 L434.07,295.14 L435.03,297.19 L436.00,299.09 L436.97,300.85 L437.94,302.92 L438.90,305.06 L439.85,307.27 L440.84,309.14 L441.81,311.41 L442.79,313.36 L443.76,315.92 L444.71,318.01 L445.67,319.78 L446.64,321.65 L447.57,324.23 L448.53,326.92 L449.47,330.10 L450.62,332.95 L451.76,336.32 L452.40,340.98 L452.90,349.00 L452.90,348.40 Z" fill="#a01010" fill-opacity="0.5"/>
<path d="M295.50,348.40 L295.50,242.70 L296.54,243.04 L297.57,243.39 L298.61,243.73 L299.64,244.07 L300.68,244.41 L301.71,244.76 L302.75,245.10 L303.79,245.44 L304.82,245.79 L305.86,246.13 L306.89,246.47 L307.93,246.81 L308.96,247.16 L310.00,247.50 L311.00,247.82 L312.00,248.14 L313.00,248.46 L314.00,248.78 L315.00,249.10 L316.00,249.42 L317.00,249.74 L318.00,250.06 L319.00,250.38 L320.00,250.70 L321.00,251.02 L322.00,251.34 L323.00,251.66 L324.00,251.98 L325.00,252.30 L326.00,252.63 L327.00,252.97 L328.00,253.30 L329.00,253.63 L330.00,253.97 L331.00,254.30 L332.00,254.63 L333.00,254.97 L334.00,255.30 L335.00,255.63 L336.00,255.97 L337.00,256.30 L338.00,256.63 L339.00,256.97 L340.00,257.30 L341.00,257.61 L342.00,257.93 L343.00,258.24 L344.00,258.56 L345.00,258.87 L346.00,259.19 L347.00,259.50 L348.00,259.81 L349.00,260.13 L350.00,260.44 L351.00,260.76 L352.00,261.07 L353.00,261.39 L354.00,261.70 L355.00,261.95 L356.00,262.19 L357.00,262.44 L358.00,262.68 L359.00,262.93 L360.00,263.17 L361.00,263.42 L362.00,263.66 L363.00,263.91 L364.00,264.15 L365.00,264.40 L366.00,264.58 L367.00,264.76 L368.00,264.94 L369.00,265.12 L370.00,265.30 L371.00,265.48 L372.00,265.66 L373.00,265.84 L374.00,266.02 L375.00,266.20 L376.00,266.32 L377.00,266.44 L378.00,266.56 L379.00,266.68 L380.00,266.80 L381.00,266.92 L382.00,267.04 L383.00,267.16 L384.00,267.28 L385.00,267.40 L386.00,267.43 L387.00,267.46 L388.00,267.49 L389.00,267.52 L390.00,267.55 L391.00,267.58 L392.00,267.61 L393.00,267.64 L394.00,267.67 L395.00,267.70 L396.00,267.74 L397.00,267.78 L398.00,267.82 L399.00,267.86 L400.00,267.90 L401.00,268.10 L402.00,268.30 L403.00,268.50 L402.19,268.09 L403.19,268.06 L404.16,268.43 L405.20,268.59 L406.17,269.43 L407.21,269.64 L408.25,269.72 L409.25,270.25 L410.24,270.90 L411.39,270.84 L412.44,271.86 L413.56,272.11 L414.65,272.68 L415.72,273.43 L416.72,273.43 L417.69,273.80 L418.65,274.23 L419.60,274.74 L420.55,275.29 L421.44,276.63 L422.35,277.54 L423.27,278.50 L424.27,279.61 L425.26,280.84 L426.27,281.91 L427.25,283.24 L428.13,284.97 L428.97,287.20 L429.87,288.63 L430.73,290.60 L431.59,292.58 L432.40,295.14 L433.25,297.19 L434.11,299.09 L434.99,300.85 L435.84,302.92 L436.68,305.06 L437.52,307.27 L438.41,309.14 L439.25,311.41 L440.13,313.36 L440.96,315.92 L441.80,318.01 L442.66,319.78 L443.52,321.65 L444.32,324.23 L445.13,326.92 L445.90,330.10 L446.90,332.95 L447.85,336.32 L448.40,340.98 L448.90,349.00 L448.90,348.40 Z" fill="#f07814" fill-opacity="0.55"/>
<path d="M295.50,348.40 L295.50,242.20 L296.54,242.54 L297.57,242.89 L298.61,243.23 L299.64,243.57 L300.68,243.91 L301.71,244.26 L302.75,244.60 L303.79,244.94 L304.82,245.29 L305.86,245.63 L306.89,245.97 L307.93,246.31 L308.96,246.66 L310.00,247.00 L311.00,247.32 L312.00,247.64 L313.00,247.96 L314.00,248.28 L315.00,248.60 L316.00,248.92 L317.00,249.24 L318.00,249.56 L319.00,249.88 L320.00,250.20 L321.00,250.52 L322.00,250.84 L323.00,251.16 L324.00,251.48 L325.00,251.80 L326.00,252.13 L327.00,252.47 L328.00,252.80 L329.00,253.13 L330.00,253.47 L331.00,253.80 L332.00,254.13 L333.00,254.47 L334.00,254.80 L335.00,255.13 L336.00,255.47 L337.00,255.80 L338.00,256.13 L339.00,256.47 L340.00,256.80 L341.00,257.11 L342.00,257.43 L343.00,257.74 L344.00,258.06 L345.00,258.37 L346.00,258.69 L347.00,259.00 L348.00,259.31 L349.00,259.63 L350.00,259.94 L351.00,260.26 L352.00,260.57 L353.00,260.89 L354.00,261.20 L355.00,261.45 L356.00,261.69 L357.00,261.94 L358.00,262.18 L359.00,262.43 L360.00,262.67 L361.00,262.92 L362.00,263.16 L363.00,263.41 L364.00,263.65 L365.00,263.90 L366.00,264.08 L367.00,264.26 L368.00,264.44 L369.00,264.62 L370.00,264.80 L371.00,264.98 L372.00,265.16 L373.00,265.34 L374.00,265.52 L375.00,265.70 L376.00,265.82 L377.00,265.94 L378.00,266.06 L379.00,266.18 L380.00,266.30 L381.00,266.42 L382.00,266.54 L383.00,266.66 L384.00,266.78 L385.00,266.90 L386.00,266.93 L387.00,266.96 L388.00,266.99 L389.00,267.02 L390.00,267.05 L391.00,267.08 L392.00,267.11 L393.00,267.14 L394.00,267.17 L395.00,267.20 L396.00,267.24 L397.00,267.28 L398.00,267.32 L399.00,267.36 L400.00,267.40 L401.00,267.60 L402.00,267.80 L403.00,268.00 L403.10,268.09 L404.10,268.06 L405.09,268.43 L406.14,268.59 L407.17,269.43 L408.21,269.64 L409.26,269.72 L410.30,270.25 L411.33,270.90 L412.47,270.84 L413.59,271.86 L414.72,272.11 L415.85,272.68 L416.97,273.43 L417.97,273.43 L418.96,273.80 L419.95,274.23 L420.94,274.74 L421.92,275.29 L422.89,276.63 L423.87,277.54 L424.85,278.50 L425.92,279.61 L426.99,280.84 L428.06,281.91 L429.13,283.24 L430.12,284.97 L431.10,287.20 L432.10,288.63 L433.08,290.60 L434.07,292.58 L435.04,295.14 L436.02,297.19 L437.01,299.09 L438.00,300.85 L438.99,302.92 L439.97,305.06 L440.95,307.27 L441.95,309.14 L442.95,311.41 L443.95,313.36 L444.94,315.92 L445.91,318.01 L446.89,319.78 L447.87,321.65 L448.83,324.23 L449.82,326.92 L450.79,330.10 L451.97,332.95 L453.14,336.32 L453.80,340.98 L454.30,349.00 L454.30,348.40 Z" fill="#787cf0" fill-opacity="0.8"/>
<polyline fill="none" stroke="#a02020" stroke-width="0.7" stroke-opacity="0.8" stroke-dasharray="5 4" points="424.30,277.54 425.30,278.50 426.40,279.61 427.50,280.84 428.60,281.91 429.70,283.24 430.73,284.97 431.77,287.20 432.80,288.63 433.83,290.60 434.87,292.58 435.90,295.14 436.93,297.19 437.97,299.09 439.00,300.85 440.03,302.92 441.07,305.06 442.10,307.27 443.15,309.14 444.20,311.41 445.25,313.36 446.30,315.92 447.32,318.01 448.35,319.78 449.38,321.65 450.40,324.23 451.45,326.92"/>
<path d="M453.6,349 L453.9,338 L453.7,331 L455.0,330.3 L456.0,337 L456.5,349 Z" fill="#8a1010" fill-opacity="0.9"/>
<polyline fill="none" stroke="#3f9256" stroke-width="1.3" stroke-opacity="1" stroke-linejoin="round" points="296.60,214.00 300.00,218.20 303.40,222.00 307.00,225.90 311.10,229.90 314.00,232.30 317.40,234.60 321.30,237.70 323.30,240.20 325.20,243.20 329.80,251.80 333.70,258.80 336.90,265.00 339.00,274.00 342.00,281.50 344.90,288.00 347.30,295.00 349.50,302.00 351.30,309.00 353.00,316.00 354.30,323.00 355.40,330.00 356.60,339.00 357.70,349.00"/>
<polyline fill="none" stroke="#f0a040" stroke-width="1.1" stroke-opacity="1" stroke-linejoin="round" points="296.60,214.00 300.00,218.20 303.40,222.10 307.00,226.60 311.10,231.50 314.00,234.10 317.40,236.90 321.30,240.80 323.30,243.80 325.20,247.10 329.80,254.90 335.30,265.00 337.30,274.00 339.80,281.50 342.80,288.00 345.30,295.00 347.50,302.00 349.30,309.00 351.00,316.00 352.30,323.00 353.40,330.00 354.60,339.00 355.70,349.00"/>
<polyline fill="none" stroke="#4a64f0" stroke-width="1.25" stroke-opacity="1" stroke-linejoin="round" points="296.60,214.00 300.00,218.20 303.40,222.10 307.00,226.60 311.10,231.50 314.00,234.10 317.40,236.90 321.30,240.80 323.30,243.80 325.20,247.10 329.80,254.90 335.30,265.00 337.75,274.00 340.95,281.50 343.95,288.00 346.45,295.00 348.65,302.00 350.45,309.00 352.15,316.00 353.45,323.00 354.55,330.00 355.75,339.00 356.85,349.00"/>
<rect x="349.0" y="308.5" width="1.0" height="2.4" fill="#a01818"/>
<rect x="354.0" y="321.8" width="1.0" height="1.6" fill="#a01818"/>
</g>
<text transform="translate(264.30,280.50) scale(1.1,1) rotate(-90)" text-anchor="middle" fill="#000" stroke="#000" stroke-width="0.22" font-size="10.35" >Number of synapses</text>
<text transform="translate(398.70,381.70) scale(1.0,1)" text-anchor="middle" fill="#000" stroke="#000" stroke-width="0.22" font-size="11.5" >Weight updates in 1 epoch</text>
<text transform="translate(257.80,204.20) scale(1.1,1)" text-anchor="start" fill="#000" stroke="#000" stroke-width="0.22" font-size="10.35" >c)</text>
<text transform="translate(323.20,216.80) scale(1.1,1)" text-anchor="start" fill="#000" stroke="#000" stroke-width="0.22" font-size="10.35" >t<tspan font-size="6.6" dy="2.6">0</tspan><tspan dy="-2.6">&#8203;</tspan> = 10 μs</text>
<text transform="translate(323.20,233.10) scale(1.1,1)" text-anchor="start" fill="#000" stroke="#000" stroke-width="0.22" font-size="10.35" >p<tspan font-size="6.6" dy="2.6">pot</tspan><tspan dy="-2.6">&#8203;</tspan> = 0.01</text>
<rect x="448.2" y="221.2" width="24.6" height="11.6" fill="#7db58b" stroke="#62966f" stroke-width="0.8"/>
<text transform="translate(476.40,231.20) scale(1.1,1)" text-anchor="start" fill="#000" stroke="#000" stroke-width="0.22" font-size="10.35" >0</text>
<rect x="448.2" y="235.4" width="24.6" height="11.6" fill="#c88080" stroke="#a86464" stroke-width="0.8"/>
<text transform="translate(476.40,245.40) scale(1.1,1)" text-anchor="start" fill="#000" stroke="#000" stroke-width="0.22" font-size="10.35" >0.5</text>
<rect x="448.2" y="249.5" width="24.6" height="11.6" fill="#f5a868" stroke="#d48c50" stroke-width="0.8"/>
<text transform="translate(476.40,259.50) scale(1.1,1)" text-anchor="start" fill="#000" stroke="#000" stroke-width="0.22" font-size="10.35" >1.0</text>
<rect x="448.2" y="263.6" width="24.6" height="11.6" fill="#8898f8" stroke="#6c7cdc" stroke-width="0.8"/>
<text transform="translate(476.40,273.60) scale(1.1,1)" text-anchor="start" fill="#000" stroke="#000" stroke-width="0.22" font-size="10.35" >2.0</text>
<text transform="translate(475.60,212.80) scale(1.1,1)" text-anchor="start" fill="#000" stroke="#000" stroke-width="0.22" font-size="10.35" text-decoration="underline">t<tspan font-size="6.6" dy="2.6">r</tspan><tspan dy="-2.6">&#8203;</tspan>/t<tspan font-size="6.6" dy="2.6">0</tspan><tspan dy="-2.6">&#8203;</tspan></text>
<text transform="translate(347.90,286.80) scale(1.1,1)" text-anchor="start" fill="#000" stroke="#000" stroke-width="0.22" font-size="10.35" >actual flips</text>
<line x1="363.70" y1="292.30" x2="353.40" y2="306.00" stroke="#000" stroke-width="0.8" />
<text transform="translate(436.50,292.00) scale(1.1,1)" text-anchor="start" fill="#000" stroke="#000" stroke-width="0.22" font-size="10.35" >flip attempts</text>
<line x1="465.40" y1="295.80" x2="449.50" y2="310.40" stroke="#000" stroke-width="0.8" />
</svg>
</body></html>
